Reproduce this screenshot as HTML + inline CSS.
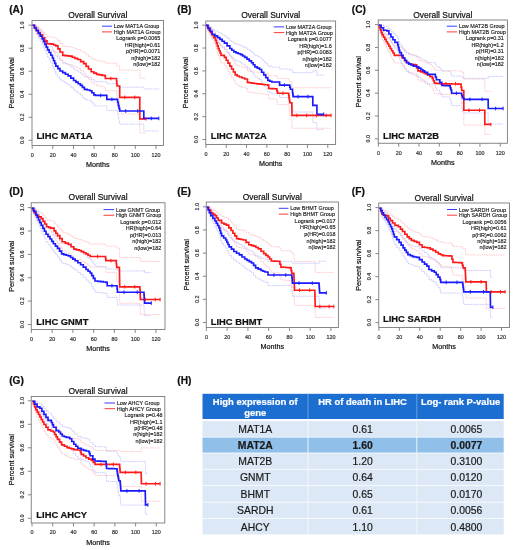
<!DOCTYPE html>
<html><head><meta charset="utf-8"><title>Survival figure</title>
<style>html,body{margin:0;padding:0;background:#fff;}svg{display:block;filter:blur(0.3px);}</style></head>
<body><svg width="516" height="550" viewBox="0 0 516 550" font-family='"Liberation Sans", sans-serif'>
<rect width="516" height="550" fill="#fff"/>
<text x="9.2" y="13.3" font-size="10.2" font-weight="bold" fill="#111" stroke="#111" stroke-width="0.2">(A)</text>
<text x="97.75" y="17.6" font-size="8.45" text-anchor="middle" fill="#111" stroke="#111" stroke-width="0.2">Overall Survival</text>
<rect x="32" y="20.5" width="131.5" height="125" fill="none" stroke="#7a7a7a" stroke-width="0.9"/>
<line x1="32.2" y1="145.5" x2="32.2" y2="148.9" stroke="#7a7a7a" stroke-width="0.9"/>
<text x="32.2" y="156.6" font-size="5.4" text-anchor="middle" fill="#333" stroke="#333" stroke-width="0.2">0</text>
<line x1="52.82" y1="145.5" x2="52.82" y2="148.9" stroke="#7a7a7a" stroke-width="0.9"/>
<text x="52.82" y="156.6" font-size="5.4" text-anchor="middle" fill="#333" stroke="#333" stroke-width="0.2">20</text>
<line x1="73.44" y1="145.5" x2="73.44" y2="148.9" stroke="#7a7a7a" stroke-width="0.9"/>
<text x="73.44" y="156.6" font-size="5.4" text-anchor="middle" fill="#333" stroke="#333" stroke-width="0.2">40</text>
<line x1="94.06" y1="145.5" x2="94.06" y2="148.9" stroke="#7a7a7a" stroke-width="0.9"/>
<text x="94.06" y="156.6" font-size="5.4" text-anchor="middle" fill="#333" stroke="#333" stroke-width="0.2">60</text>
<line x1="114.68" y1="145.5" x2="114.68" y2="148.9" stroke="#7a7a7a" stroke-width="0.9"/>
<text x="114.68" y="156.6" font-size="5.4" text-anchor="middle" fill="#333" stroke="#333" stroke-width="0.2">80</text>
<line x1="135.3" y1="145.5" x2="135.3" y2="148.9" stroke="#7a7a7a" stroke-width="0.9"/>
<text x="135.3" y="156.6" font-size="5.4" text-anchor="middle" fill="#333" stroke="#333" stroke-width="0.2">100</text>
<line x1="155.92" y1="145.5" x2="155.92" y2="148.9" stroke="#7a7a7a" stroke-width="0.9"/>
<text x="155.92" y="156.6" font-size="5.4" text-anchor="middle" fill="#333" stroke="#333" stroke-width="0.2">120</text>
<line x1="28.6" y1="140.3" x2="32" y2="140.3" stroke="#7a7a7a" stroke-width="0.9"/>
<text transform="translate(24.2 140.3) rotate(-90)" font-size="5.4" text-anchor="middle" fill="#333" stroke="#333" stroke-width="0.2">0.0</text>
<line x1="28.6" y1="117.28" x2="32" y2="117.28" stroke="#7a7a7a" stroke-width="0.9"/>
<text transform="translate(24.2 117.28) rotate(-90)" font-size="5.4" text-anchor="middle" fill="#333" stroke="#333" stroke-width="0.2">0.2</text>
<line x1="28.6" y1="94.26" x2="32" y2="94.26" stroke="#7a7a7a" stroke-width="0.9"/>
<text transform="translate(24.2 94.26) rotate(-90)" font-size="5.4" text-anchor="middle" fill="#333" stroke="#333" stroke-width="0.2">0.4</text>
<line x1="28.6" y1="71.24" x2="32" y2="71.24" stroke="#7a7a7a" stroke-width="0.9"/>
<text transform="translate(24.2 71.24) rotate(-90)" font-size="5.4" text-anchor="middle" fill="#333" stroke="#333" stroke-width="0.2">0.6</text>
<line x1="28.6" y1="48.22" x2="32" y2="48.22" stroke="#7a7a7a" stroke-width="0.9"/>
<text transform="translate(24.2 48.22) rotate(-90)" font-size="5.4" text-anchor="middle" fill="#333" stroke="#333" stroke-width="0.2">0.8</text>
<line x1="28.6" y1="25.2" x2="32" y2="25.2" stroke="#7a7a7a" stroke-width="0.9"/>
<text transform="translate(24.2 25.2) rotate(-90)" font-size="5.4" text-anchor="middle" fill="#333" stroke="#333" stroke-width="0.2">1.0</text>
<text x="97.75" y="166.8" font-size="7.2" text-anchor="middle" fill="#111" stroke="#111" stroke-width="0.2">Months</text>
<text transform="translate(14.2 83) rotate(-90)" font-size="7.2" text-anchor="middle" fill="#111" stroke="#111" stroke-width="0.2">Percent survival</text>
<path d="M32.5 25.2 L34.42 25.2 L34.42 25.2 L36.35 25.2 L36.35 26.53 L38.28 26.53 L38.28 28.16 L40.2 28.16 L40.2 29.92 L42.47 29.92 L42.47 32.15 L44.73 32.15 L44.73 34.45 L47 34.45 L47 36.82 L49.35 36.82 L49.35 36.98 L51.7 36.98 L51.7 37.14 L53.75 37.14 L53.75 37.82 L55.8 37.82 L55.8 38.5 L57.9 38.5 L57.9 40.98 L60 40.98 L60 43.5 L62.7 43.5 L62.7 46.31 L64.97 46.31 L64.97 46.5 L67.23 46.5 L67.23 46.69 L69.5 46.69 L69.5 46.88 L72.2 46.88 L72.2 47.78 L74.9 47.78 L74.9 48.67 L77.6 48.67 L77.6 49.54 L80.65 49.54 L80.65 51.1 L83.7 51.1 L83.7 52.64 L86.1 52.64 L86.1 54.67 L88.5 54.67 L88.5 56.71 L91.2 56.71 L91.2 58.75 L93.9 58.75 L93.9 59.75 L96.6 59.75 L96.6 60.72 L99.33 60.72 L99.33 61.04 L102.07 61.04 L102.07 61.34 L104.8 61.34 L104.8 61.62 L105.4 61.62 L105.4 63.23 L116.3 63.23 L116.53 63.23 L116.53 63.93 L116.77 63.93 L116.77 64.83 L117 64.83 L117 65.88 L119.7 65.88 L119.7 66.08 L119.7 70.21 L139.8 70.21 L139.8 78.16 L145.9 78.16" fill="none" stroke="#ffb0b0" stroke-width="0.75" stroke-dasharray="1.6 0.7" opacity="0.85"/>
<path d="M32.5 25.2 L34.42 25.2 L34.42 30.05 L36.35 30.05 L36.35 33.46 L38.28 33.46 L38.28 36.62 L40.2 36.62 L40.2 39.65 L42.47 39.65 L42.47 43.22 L44.73 43.22 L44.73 46.7 L47 46.7 L47 50.12 L49.35 50.12 L49.35 50.36 L51.7 50.36 L51.7 50.59 L53.75 50.59 L53.75 51.58 L55.8 51.58 L55.8 52.58 L57.9 52.58 L57.9 56.19 L60 56.19 L60 59.75 L62.7 59.75 L62.7 63.61 L64.97 63.61 L64.97 63.88 L67.23 63.88 L67.23 64.14 L69.5 64.14 L69.5 64.41 L72.2 64.41 L72.2 65.72 L74.9 65.72 L74.9 67.04 L77.6 67.04 L77.6 68.37 L80.65 68.37 L80.65 70.78 L83.7 70.78 L83.7 73.19 L86.1 73.19 L86.1 76.35 L88.5 76.35 L88.5 79.48 L91.2 79.48 L91.2 82.6 L93.9 82.6 L93.9 84.15 L96.6 84.15 L96.6 85.73 L99.33 85.73 L99.33 86.28 L102.07 86.28 L102.07 86.85 L104.8 86.85 L104.8 87.43 L105.4 87.43 L105.4 90.74 L116.3 90.74 L116.53 90.74 L116.53 94.25 L116.77 94.25 L116.77 97.55 L117 97.55 L117 100.68 L119.7 100.68 L119.7 101.45 L119.7 113.92 L139.8 113.92 L139.8 132.86 L145.9 132.86" fill="none" stroke="#ffb0b0" stroke-width="0.75" stroke-dasharray="1.6 0.7" opacity="0.85"/>
<path d="M32.5 25.2 L34.44 25.2 L34.44 25.31 L36.38 25.31 L36.38 26.97 L38.32 26.97 L38.32 28.89 L40.26 28.89 L40.26 30.95 L42.2 30.95 L42.2 33.09 L43.55 33.09 L43.55 35.25 L44.9 35.25 L44.9 37.47 L46.25 37.47 L46.25 39.72 L47.6 39.72 L47.6 42.01 L49.2 42.01 L49.2 44.36 L50.8 44.36 L50.8 46.73 L52.4 46.73 L52.4 49.12 L53.53 49.12 L53.53 51.5 L54.67 51.5 L54.67 53.91 L55.8 53.91 L55.8 56.34 L57.9 56.34 L57.9 58.55 L60 58.55 L60 60.76 L62.7 60.76 L62.7 62.2 L65.4 62.2 L65.4 63.63 L68.1 63.63 L68.1 65.05 L70.85 65.05 L70.85 67.12 L73.6 67.12 L73.6 69.18 L75.87 69.18 L75.87 70.58 L78.13 70.58 L78.13 71.97 L80.4 71.97 L80.4 73.35 L82.4 73.35 L82.4 75.05 L84.4 75.05 L84.4 76.76 L87.1 76.76 L87.1 77.34 L89.8 77.34 L89.8 77.91 L91.85 77.91 L91.85 79.54 L93.9 79.54 L93.9 81.16 L95.3 81.16 L95.3 81.63 L106.1 81.63 L106.8 81.63 L106.8 83.8 L117 83.8 L117.65 83.8 L117.65 84.42 L118.3 84.42 L118.3 85.31 L119 85.31 L119 86.23 L119.7 86.23 L119.7 87.22 L143.8 87.22 L143.8 88.96 L158.8 88.96" fill="none" stroke="#b0b0ff" stroke-width="0.75" stroke-dasharray="1.6 0.7" opacity="0.85"/>
<path d="M32.5 25.2 L34.44 25.2 L34.44 30.55 L36.38 30.55 L36.38 34.34 L38.32 34.34 L38.32 37.88 L40.26 37.88 L40.26 41.28 L42.2 41.28 L42.2 44.58 L43.55 44.58 L43.55 47.75 L44.9 47.75 L44.9 50.87 L46.25 50.87 L46.25 53.94 L47.6 53.94 L47.6 56.97 L49.2 56.97 L49.2 60.01 L50.8 60.01 L50.8 63.03 L52.4 63.03 L52.4 66.02 L53.53 66.02 L53.53 68.95 L54.67 68.95 L54.67 71.85 L55.8 71.85 L55.8 74.73 L57.9 74.73 L57.9 77.33 L60 77.33 L60 79.92 L62.7 79.92 L62.7 81.62 L65.4 81.62 L65.4 83.31 L68.1 83.31 L68.1 85.01 L70.85 85.01 L70.85 87.52 L73.6 87.52 L73.6 90.02 L75.87 90.02 L75.87 91.72 L78.13 91.72 L78.13 93.42 L80.4 93.42 L80.4 95.12 L82.4 95.12 L82.4 97.25 L84.4 97.25 L84.4 99.37 L87.1 99.37 L87.1 100.11 L89.8 100.11 L89.8 100.87 L91.85 100.87 L91.85 103.09 L93.9 103.09 L93.9 105.3 L95.3 105.3 L95.3 105.94 L106.1 105.94 L106.8 105.94 L106.8 110.55 L117 110.55 L117.65 110.55 L117.65 114.66 L118.3 114.66 L118.3 118.4 L119 118.4 L119 121.36 L119.7 121.36 L119.7 124.13 L143.8 124.13 L143.8 130.96 L158.8 130.96" fill="none" stroke="#b0b0ff" stroke-width="0.75" stroke-dasharray="1.6 0.7" opacity="0.85"/>
<path d="M32.5 25.2 L34.42 25.2 L34.42 27.62 L36.35 27.62 L36.35 30.05 L38.28 30.05 L38.28 32.48 L40.2 32.48 L40.2 34.9 L42.47 34.9 L42.47 37.83 L44.73 37.83 L44.73 40.77 L47 40.77 L47 43.7 L49.35 43.7 L49.35 43.9 L51.7 43.9 L51.7 44.1 L53.75 44.1 L53.75 44.95 L55.8 44.95 L55.8 45.8 L57.9 45.8 L57.9 48.9 L60 48.9 L60 52 L62.7 52 L62.7 55.4 L64.97 55.4 L64.97 55.63 L67.23 55.63 L67.23 55.87 L69.5 55.87 L69.5 56.1 L72.2 56.1 L72.2 57.23 L74.9 57.23 L74.9 58.37 L77.6 58.37 L77.6 59.5 L80.65 59.5 L80.65 61.55 L83.7 61.55 L83.7 63.6 L86.1 63.6 L86.1 66.3 L88.5 66.3 L88.5 69 L91.2 69 L91.2 71.7 L93.9 71.7 L93.9 73.05 L96.6 73.05 L96.6 74.4 L99.33 74.4 L99.33 74.87 L102.07 74.87 L102.07 75.33 L104.8 75.33 L104.8 75.8 L105.4 75.8 L105.4 78.5 L116.3 78.5 L116.53 78.5 L116.53 81 L116.77 81 L116.77 83.5 L117 83.5 L117 86 L119.7 86 L119.7 86.6 L119.7 97.3 L139.8 97.3 L139.8 118.8 L145.9 118.8" fill="none" stroke="#ff1a1a" stroke-width="1.65" stroke-linejoin="miter"/>
<path d="M32.5 25.2 L34.44 25.2 L34.44 27.96 L36.38 27.96 L36.38 30.72 L38.32 30.72 L38.32 33.48 L40.26 33.48 L40.26 36.24 L42.2 36.24 L42.2 39 L43.55 39 L43.55 41.7 L44.9 41.7 L44.9 44.4 L46.25 44.4 L46.25 47.1 L47.6 47.1 L47.6 49.8 L49.2 49.8 L49.2 52.53 L50.8 52.53 L50.8 55.27 L52.4 55.27 L52.4 58 L53.53 58 L53.53 60.7 L54.67 60.7 L54.67 63.4 L55.8 63.4 L55.8 66.1 L57.9 66.1 L57.9 68.55 L60 68.55 L60 71 L62.7 71 L62.7 72.6 L65.4 72.6 L65.4 74.2 L68.1 74.2 L68.1 75.8 L70.85 75.8 L70.85 78.15 L73.6 78.15 L73.6 80.5 L75.87 80.5 L75.87 82.1 L78.13 82.1 L78.13 83.7 L80.4 83.7 L80.4 85.3 L82.4 85.3 L82.4 87.3 L84.4 87.3 L84.4 89.3 L87.1 89.3 L87.1 90 L89.8 90 L89.8 90.7 L91.85 90.7 L91.85 92.75 L93.9 92.75 L93.9 94.8 L95.3 94.8 L95.3 95.4 L106.1 95.4 L106.8 95.4 L106.8 99.3 L117 99.3 L117.65 99.3 L117.65 102.45 L118.3 102.45 L118.3 105.6 L119 105.6 L119 108.3 L119.7 108.3 L119.7 111 L143.8 111 L143.8 118.4 L158.8 118.4" fill="none" stroke="#1a1aff" stroke-width="1.65" stroke-linejoin="miter"/>
<path d="M110.85 76.7 V80.3 M124.73 95.5 V99.1 M134.78 95.5 V99.1 M145.9 117 V120.6" stroke="#ff1a1a" stroke-width="1.0" fill="none"/>
<path d="M100.7 93.6 V97.2 M111.9 97.5 V101.1 M125.73 109.2 V112.8 M137.78 109.2 V112.8 M151.3 116.6 V120.2 M158.8 116.6 V120.2" stroke="#1a1aff" stroke-width="1.0" fill="none"/>
<line x1="102" y1="26.2" x2="112" y2="26.2" stroke="#3030ff" stroke-width="0.95"/>
<text transform="translate(113.8 28.2) scale(1 1.15)" font-size="5.45" fill="#222" stroke="#222" stroke-width="0.15">Low MAT1A Group</text>
<line x1="102" y1="31.88" x2="112" y2="31.88" stroke="#ff3030" stroke-width="0.95"/>
<text transform="translate(113.8 33.88) scale(1 1.15)" font-size="5.45" fill="#222" stroke="#222" stroke-width="0.15">High MAT1A Group</text>
<text transform="translate(160.3 40.33) scale(1 1.15)" font-size="5.45" text-anchor="end" fill="#222" stroke="#222" stroke-width="0.15">Logrank p=0.0065</text>
<text transform="translate(160.3 46.78) scale(1 1.15)" font-size="5.45" text-anchor="end" fill="#222" stroke="#222" stroke-width="0.15">HR(high)=0.61</text>
<text transform="translate(160.3 53.23) scale(1 1.15)" font-size="5.45" text-anchor="end" fill="#222" stroke="#222" stroke-width="0.15">p(HR)=0.0071</text>
<text transform="translate(160.3 59.68) scale(1 1.15)" font-size="5.45" text-anchor="end" fill="#222" stroke="#222" stroke-width="0.15">n(high)=182</text>
<text transform="translate(160.3 66.13) scale(1 1.15)" font-size="5.45" text-anchor="end" fill="#222" stroke="#222" stroke-width="0.15">n(low)=182</text>
<text x="36.4" y="139.1" font-size="9.4" font-weight="bold" fill="#111" stroke="#111" stroke-width="0.2">LIHC MAT1A</text>
<text x="177.3" y="13.3" font-size="10.2" font-weight="bold" fill="#111" stroke="#111" stroke-width="0.2">(B)</text>
<text x="270.68" y="17.6" font-size="8.45" text-anchor="middle" fill="#111" stroke="#111" stroke-width="0.2">Overall Survival</text>
<rect x="205.75" y="21" width="129.85" height="123.5" fill="none" stroke="#7a7a7a" stroke-width="0.9"/>
<line x1="205.9" y1="144.5" x2="205.9" y2="147.9" stroke="#7a7a7a" stroke-width="0.9"/>
<text x="205.9" y="156" font-size="5.4" text-anchor="middle" fill="#333" stroke="#333" stroke-width="0.2">0</text>
<line x1="226.21" y1="144.5" x2="226.21" y2="147.9" stroke="#7a7a7a" stroke-width="0.9"/>
<text x="226.21" y="156" font-size="5.4" text-anchor="middle" fill="#333" stroke="#333" stroke-width="0.2">20</text>
<line x1="246.52" y1="144.5" x2="246.52" y2="147.9" stroke="#7a7a7a" stroke-width="0.9"/>
<text x="246.52" y="156" font-size="5.4" text-anchor="middle" fill="#333" stroke="#333" stroke-width="0.2">40</text>
<line x1="266.84" y1="144.5" x2="266.84" y2="147.9" stroke="#7a7a7a" stroke-width="0.9"/>
<text x="266.84" y="156" font-size="5.4" text-anchor="middle" fill="#333" stroke="#333" stroke-width="0.2">60</text>
<line x1="287.15" y1="144.5" x2="287.15" y2="147.9" stroke="#7a7a7a" stroke-width="0.9"/>
<text x="287.15" y="156" font-size="5.4" text-anchor="middle" fill="#333" stroke="#333" stroke-width="0.2">80</text>
<line x1="307.46" y1="144.5" x2="307.46" y2="147.9" stroke="#7a7a7a" stroke-width="0.9"/>
<text x="307.46" y="156" font-size="5.4" text-anchor="middle" fill="#333" stroke="#333" stroke-width="0.2">100</text>
<line x1="327.77" y1="144.5" x2="327.77" y2="147.9" stroke="#7a7a7a" stroke-width="0.9"/>
<text x="327.77" y="156" font-size="5.4" text-anchor="middle" fill="#333" stroke="#333" stroke-width="0.2">120</text>
<line x1="202.35" y1="139.5" x2="205.75" y2="139.5" stroke="#7a7a7a" stroke-width="0.9"/>
<text transform="translate(197.5 139.5) rotate(-90)" font-size="5.4" text-anchor="middle" fill="#333" stroke="#333" stroke-width="0.2">0.0</text>
<line x1="202.35" y1="116.64" x2="205.75" y2="116.64" stroke="#7a7a7a" stroke-width="0.9"/>
<text transform="translate(197.5 116.64) rotate(-90)" font-size="5.4" text-anchor="middle" fill="#333" stroke="#333" stroke-width="0.2">0.2</text>
<line x1="202.35" y1="93.78" x2="205.75" y2="93.78" stroke="#7a7a7a" stroke-width="0.9"/>
<text transform="translate(197.5 93.78) rotate(-90)" font-size="5.4" text-anchor="middle" fill="#333" stroke="#333" stroke-width="0.2">0.4</text>
<line x1="202.35" y1="70.92" x2="205.75" y2="70.92" stroke="#7a7a7a" stroke-width="0.9"/>
<text transform="translate(197.5 70.92) rotate(-90)" font-size="5.4" text-anchor="middle" fill="#333" stroke="#333" stroke-width="0.2">0.6</text>
<line x1="202.35" y1="48.06" x2="205.75" y2="48.06" stroke="#7a7a7a" stroke-width="0.9"/>
<text transform="translate(197.5 48.06) rotate(-90)" font-size="5.4" text-anchor="middle" fill="#333" stroke="#333" stroke-width="0.2">0.8</text>
<line x1="202.35" y1="25.2" x2="205.75" y2="25.2" stroke="#7a7a7a" stroke-width="0.9"/>
<text transform="translate(197.5 25.2) rotate(-90)" font-size="5.4" text-anchor="middle" fill="#333" stroke="#333" stroke-width="0.2">1.0</text>
<text x="270.68" y="165.5" font-size="7.2" text-anchor="middle" fill="#111" stroke="#111" stroke-width="0.2">Months</text>
<text transform="translate(188 82.75) rotate(-90)" font-size="7.2" text-anchor="middle" fill="#111" stroke="#111" stroke-width="0.2">Percent survival</text>
<path d="M206 25.2 L207.53 25.2 L207.53 25.24 L209.05 25.24 L209.05 26.64 L210.57 26.64 L210.57 28.25 L212.1 28.25 L212.1 29.99 L213.8 29.99 L213.8 32.1 L215.5 32.1 L215.5 34.28 L216.4 34.28 L216.4 36.48 L217.3 36.48 L217.3 38.73 L218.2 38.73 L218.2 41.02 L219.13 41.02 L219.13 42.97 L220.07 42.97 L220.07 44.94 L221 44.94 L221 46.94 L224.4 46.94 L224.4 48.69 L226.2 48.69 L226.2 51.27 L228 51.27 L228 53.87 L229.8 53.87 L229.8 56.48 L231.6 56.48 L231.6 59.12 L233.4 59.12 L233.4 61.77 L235.2 61.77 L235.2 64.43 L237.25 64.43 L237.25 65.39 L239.3 65.39 L239.3 66.34 L242 66.34 L242 67.23 L244.7 67.23 L244.7 68.11 L247.4 68.11 L247.4 71.08 L249.45 71.08 L249.45 71.39 L251.5 71.39 L251.5 71.69 L254.2 71.69 L254.2 71.98 L256.9 71.98 L256.9 72.27 L259.62 72.27 L259.62 72.53 L262.35 72.53 L262.35 72.77 L265.07 72.77 L265.07 73.01 L267.8 73.01 L267.8 73.24 L268.7 73.24 L268.7 75.59 L271.2 75.59 L271.2 75.65 L273.7 75.65 L273.7 75.72 L276.2 75.72 L276.2 75.78 L276.85 75.78 L276.85 77.06 L277.5 77.06 L277.5 78.4 L288.4 78.4 L288.72 78.4 L288.72 78.99 L289.05 78.99 L289.05 79.76 L289.38 79.76 L289.38 80.68 L289.7 80.68 L289.7 81.72 L291.8 81.72 L291.8 81.98 L291.84 81.98 L291.84 82.9 L291.88 82.9 L291.88 83.96 L291.92 83.96 L291.92 85.13 L291.96 85.13 L291.96 86.41 L292 86.41 L292 87.76 L331.1 87.76" fill="none" stroke="#ffb0b0" stroke-width="0.75" stroke-dasharray="1.6 0.7" opacity="0.85"/>
<path d="M206 26.09 L207.53 26.09 L207.53 30.25 L209.05 30.25 L209.05 33.55 L210.57 33.55 L210.57 36.63 L212.1 36.63 L212.1 39.59 L213.8 39.59 L213.8 42.92 L215.5 42.92 L215.5 46.17 L216.4 46.17 L216.4 49.3 L217.3 49.3 L217.3 52.37 L218.2 52.37 L218.2 55.41 L219.13 55.41 L219.13 57.93 L220.07 57.93 L220.07 60.43 L221 60.43 L221 62.91 L224.4 62.91 L224.4 65.1 L226.2 65.1 L226.2 68.29 L228 68.29 L228 71.46 L229.8 71.46 L229.8 74.6 L231.6 74.6 L231.6 77.72 L233.4 77.72 L233.4 80.83 L235.2 80.83 L235.2 83.91 L237.25 83.91 L237.25 85.01 L239.3 85.01 L239.3 86.11 L242 86.11 L242 87.16 L244.7 87.16 L244.7 88.23 L247.4 88.23 L247.4 91.85 L249.45 91.85 L249.45 92.22 L251.5 92.22 L251.5 92.59 L254.2 92.59 L254.2 92.97 L256.9 92.97 L256.9 93.35 L259.62 93.35 L259.62 93.71 L262.35 93.71 L262.35 94.08 L265.07 94.08 L265.07 94.46 L267.8 94.46 L267.8 94.84 L268.7 94.84 L268.7 98.81 L271.2 98.81 L271.2 98.92 L273.7 98.92 L273.7 99.04 L276.2 99.04 L276.2 99.16 L276.85 99.16 L276.85 101.83 L277.5 101.83 L277.5 104.41 L288.4 104.41 L288.72 104.41 L288.72 107.62 L289.05 107.62 L289.05 110.6 L289.38 110.6 L289.38 113.41 L289.7 113.41 L289.7 116.06 L291.8 116.06 L291.8 116.84 L291.84 116.84 L291.84 119.43 L291.88 119.43 L291.88 121.86 L291.92 121.86 L291.92 124.14 L291.96 124.14 L291.96 126.27 L292 126.27 L292 128.27 L331.1 128.27" fill="none" stroke="#ffb0b0" stroke-width="0.75" stroke-dasharray="1.6 0.7" opacity="0.85"/>
<path d="M206 25.2 L208.03 25.2 L208.03 25.53 L210.07 25.53 L210.07 27.36 L212.1 27.36 L212.1 29.44 L214.85 29.44 L214.85 30.71 L217.6 30.71 L217.6 32 L219.87 32 L219.87 33.42 L222.13 33.42 L222.13 34.85 L224.4 34.85 L224.4 36.3 L227.1 36.3 L227.1 38.46 L229.8 38.46 L229.8 40.64 L231.8 40.64 L231.8 42.04 L233.8 42.04 L233.8 43.43 L236.07 43.43 L236.07 44.17 L238.33 44.17 L238.33 44.9 L240.6 44.9 L240.6 45.63 L242.65 45.63 L242.65 46.71 L244.7 46.71 L244.7 47.79 L246.97 47.79 L246.97 49.23 L249.23 49.23 L249.23 50.66 L251.5 50.66 L251.5 52.09 L253.2 52.09 L253.2 53.72 L254.9 53.72 L254.9 55.35 L257.25 55.35 L257.25 56.42 L259.6 56.42 L259.6 57.48 L261.65 57.48 L261.65 59.57 L263.7 59.57 L263.7 61.66 L265.75 61.66 L265.75 63.8 L267.8 63.8 L267.8 65.93 L269.8 65.93 L269.8 66.55 L271.8 66.55 L271.8 67.15 L278.2 67.15 L279.6 67.15 L279.6 69 L289.1 69 L289.75 69 L289.75 69.58 L290.4 69.58 L290.4 70.23 L292.5 70.23 L292.5 71.16 L292.8 71.16 L292.8 71.87 L293.1 71.87 L293.1 72.65 L312.8 72.65 L312.8 70.79 L316.9 70.79 L316.9 75.18 L323.7 75.18" fill="none" stroke="#b0b0ff" stroke-width="0.75" stroke-dasharray="1.6 0.7" opacity="0.85"/>
<path d="M206 26.09 L208.03 26.09 L208.03 31.07 L210.07 31.07 L210.07 35.04 L212.1 35.04 L212.1 38.75 L214.85 38.75 L214.85 40.84 L217.6 40.84 L217.6 42.91 L219.87 42.91 L219.87 45.11 L222.13 45.11 L222.13 47.29 L224.4 47.29 L224.4 49.45 L227.1 49.45 L227.1 52.61 L229.8 52.61 L229.8 55.73 L231.8 55.73 L231.8 57.68 L233.8 57.68 L233.8 59.62 L236.07 59.62 L236.07 60.65 L238.33 60.65 L238.33 61.68 L240.6 61.68 L240.6 62.71 L242.65 62.71 L242.65 64.27 L244.7 64.27 L244.7 65.82 L246.97 65.82 L246.97 67.89 L249.23 67.89 L249.23 69.96 L251.5 69.96 L251.5 72.03 L253.2 72.03 L253.2 74.36 L254.9 74.36 L254.9 76.69 L257.25 76.69 L257.25 78.22 L259.6 78.22 L259.6 79.76 L261.65 79.76 L261.65 82.84 L263.7 82.84 L263.7 85.89 L265.75 85.89 L265.75 88.97 L267.8 88.97 L267.8 92.02 L269.8 92.02 L269.8 92.91 L271.8 92.91 L271.8 93.8 L278.2 93.8 L279.6 93.8 L279.6 97.52 L289.1 97.52 L289.75 97.52 L289.75 100.31 L290.4 100.31 L290.4 102.98 L292.5 102.98 L292.5 107.31 L292.8 107.31 L292.8 109.69 L293.1 109.69 L293.1 111.97 L312.8 111.97 L312.8 122.58 L316.9 122.58 L316.9 129.63 L323.7 129.63" fill="none" stroke="#b0b0ff" stroke-width="0.75" stroke-dasharray="1.6 0.7" opacity="0.85"/>
<path d="M206 25.4 L207.53 25.4 L207.53 27.77 L209.05 27.77 L209.05 30.15 L210.57 30.15 L210.57 32.52 L212.1 32.52 L212.1 34.9 L213.8 34.9 L213.8 37.65 L215.5 37.65 L215.5 40.4 L216.4 40.4 L216.4 43.1 L217.3 43.1 L217.3 45.8 L218.2 45.8 L218.2 48.5 L219.13 48.5 L219.13 50.77 L220.07 50.77 L220.07 53.03 L221 53.03 L221 55.3 L224.4 55.3 L224.4 57.3 L226.2 57.3 L226.2 60.23 L228 60.23 L228 63.17 L229.8 63.17 L229.8 66.1 L231.6 66.1 L231.6 69.03 L233.4 69.03 L233.4 71.97 L235.2 71.97 L235.2 74.9 L237.25 74.9 L237.25 75.95 L239.3 75.95 L239.3 77 L242 77 L242 78 L244.7 78 L244.7 79 L247.4 79 L247.4 82.4 L249.45 82.4 L249.45 82.75 L251.5 82.75 L251.5 83.1 L254.2 83.1 L254.2 83.45 L256.9 83.45 L256.9 83.8 L259.62 83.8 L259.62 84.12 L262.35 84.12 L262.35 84.45 L265.07 84.45 L265.07 84.77 L267.8 84.77 L267.8 85.1 L268.7 85.1 L268.7 88.5 L271.2 88.5 L271.2 88.6 L273.7 88.6 L273.7 88.7 L276.2 88.7 L276.2 88.8 L276.85 88.8 L276.85 91 L277.5 91 L277.5 93.2 L288.4 93.2 L288.72 93.2 L288.72 95.58 L289.05 95.58 L289.05 97.95 L289.38 97.95 L289.38 100.33 L289.7 100.33 L289.7 102.7 L291.8 102.7 L291.8 103.4 L291.84 103.4 L291.84 105.8 L291.88 105.8 L291.88 108.2 L291.92 108.2 L291.92 110.6 L291.96 110.6 L291.96 113 L292 113 L292 115.4 L331.1 115.4" fill="none" stroke="#ff1a1a" stroke-width="1.65" stroke-linejoin="miter"/>
<path d="M206 25.4 L208.03 25.4 L208.03 28.33 L210.07 28.33 L210.07 31.27 L212.1 31.27 L212.1 34.2 L214.85 34.2 L214.85 35.9 L217.6 35.9 L217.6 37.6 L219.87 37.6 L219.87 39.43 L222.13 39.43 L222.13 41.27 L224.4 41.27 L224.4 43.1 L227.1 43.1 L227.1 45.8 L229.8 45.8 L229.8 48.5 L231.8 48.5 L231.8 50.2 L233.8 50.2 L233.8 51.9 L236.07 51.9 L236.07 52.8 L238.33 52.8 L238.33 53.7 L240.6 53.7 L240.6 54.6 L242.65 54.6 L242.65 55.95 L244.7 55.95 L244.7 57.3 L246.97 57.3 L246.97 59.1 L249.23 59.1 L249.23 60.9 L251.5 60.9 L251.5 62.7 L253.2 62.7 L253.2 64.75 L254.9 64.75 L254.9 66.8 L257.25 66.8 L257.25 68.15 L259.6 68.15 L259.6 69.5 L261.65 69.5 L261.65 72.2 L263.7 72.2 L263.7 74.9 L265.75 74.9 L265.75 77.65 L267.8 77.65 L267.8 80.4 L269.8 80.4 L269.8 81.2 L271.8 81.2 L271.8 82 L278.2 82 L279.6 82 L279.6 85.1 L289.1 85.1 L289.75 85.1 L289.75 87.15 L290.4 87.15 L290.4 89.2 L292.5 89.2 L292.5 92.6 L292.8 92.6 L292.8 94.6 L293.1 94.6 L293.1 96.6 L312.8 96.6 L312.8 105.4 L316.9 105.4 L316.9 114.3 L323.7 114.3" fill="none" stroke="#1a1aff" stroke-width="1.65" stroke-linejoin="miter"/>
<path d="M282.95 91.4 V95 M296.89 113.6 V117.2 M306.66 113.6 V117.2 M316.44 113.6 V117.2 M326.21 113.6 V117.2 M331.1 113.6 V117.2" stroke="#ff1a1a" stroke-width="1.0" fill="none"/>
<path d="M284.35 83.3 V86.9 M298.03 94.8 V98.4 M307.88 94.8 V98.4 M323.7 112.5 V116.1" stroke="#1a1aff" stroke-width="1.0" fill="none"/>
<line x1="273.75" y1="26.9" x2="284.25" y2="26.9" stroke="#3030ff" stroke-width="0.95"/>
<text transform="translate(286.05 28.9) scale(1 1.15)" font-size="5.45" fill="#222" stroke="#222" stroke-width="0.15">Low MAT2A Group</text>
<line x1="273.75" y1="32.62" x2="284.25" y2="32.62" stroke="#ff3030" stroke-width="0.95"/>
<text transform="translate(286.05 34.62) scale(1 1.15)" font-size="5.45" fill="#222" stroke="#222" stroke-width="0.15">High MAT2A Group</text>
<text transform="translate(331.7 41.12) scale(1 1.15)" font-size="5.45" text-anchor="end" fill="#222" stroke="#222" stroke-width="0.15">Logrank p=0.0077</text>
<text transform="translate(331.7 47.62) scale(1 1.15)" font-size="5.45" text-anchor="end" fill="#222" stroke="#222" stroke-width="0.15">HR(high)=1.6</text>
<text transform="translate(331.7 54.12) scale(1 1.15)" font-size="5.45" text-anchor="end" fill="#222" stroke="#222" stroke-width="0.15">p(HR)=0.0083</text>
<text transform="translate(331.7 60.62) scale(1 1.15)" font-size="5.45" text-anchor="end" fill="#222" stroke="#222" stroke-width="0.15">n(high)=182</text>
<text transform="translate(331.7 67.12) scale(1 1.15)" font-size="5.45" text-anchor="end" fill="#222" stroke="#222" stroke-width="0.15">n(low)=182</text>
<text x="210.75" y="139.2" font-size="9.4" font-weight="bold" fill="#111" stroke="#111" stroke-width="0.2">LIHC MAT2A</text>
<text x="351.8" y="13.3" font-size="10.2" font-weight="bold" fill="#111" stroke="#111" stroke-width="0.2">(C)</text>
<text x="442.82" y="17.6" font-size="8.45" text-anchor="middle" fill="#111" stroke="#111" stroke-width="0.2">Overall Survival</text>
<rect x="378.25" y="20" width="129.15" height="123.25" fill="none" stroke="#7a7a7a" stroke-width="0.9"/>
<line x1="378.4" y1="143.25" x2="378.4" y2="146.65" stroke="#7a7a7a" stroke-width="0.9"/>
<text x="378.4" y="155.2" font-size="5.4" text-anchor="middle" fill="#333" stroke="#333" stroke-width="0.2">0</text>
<line x1="398.71" y1="143.25" x2="398.71" y2="146.65" stroke="#7a7a7a" stroke-width="0.9"/>
<text x="398.71" y="155.2" font-size="5.4" text-anchor="middle" fill="#333" stroke="#333" stroke-width="0.2">20</text>
<line x1="419.02" y1="143.25" x2="419.02" y2="146.65" stroke="#7a7a7a" stroke-width="0.9"/>
<text x="419.02" y="155.2" font-size="5.4" text-anchor="middle" fill="#333" stroke="#333" stroke-width="0.2">40</text>
<line x1="439.34" y1="143.25" x2="439.34" y2="146.65" stroke="#7a7a7a" stroke-width="0.9"/>
<text x="439.34" y="155.2" font-size="5.4" text-anchor="middle" fill="#333" stroke="#333" stroke-width="0.2">60</text>
<line x1="459.65" y1="143.25" x2="459.65" y2="146.65" stroke="#7a7a7a" stroke-width="0.9"/>
<text x="459.65" y="155.2" font-size="5.4" text-anchor="middle" fill="#333" stroke="#333" stroke-width="0.2">80</text>
<line x1="479.96" y1="143.25" x2="479.96" y2="146.65" stroke="#7a7a7a" stroke-width="0.9"/>
<text x="479.96" y="155.2" font-size="5.4" text-anchor="middle" fill="#333" stroke="#333" stroke-width="0.2">100</text>
<line x1="500.27" y1="143.25" x2="500.27" y2="146.65" stroke="#7a7a7a" stroke-width="0.9"/>
<text x="500.27" y="155.2" font-size="5.4" text-anchor="middle" fill="#333" stroke="#333" stroke-width="0.2">120</text>
<line x1="374.85" y1="138.8" x2="378.25" y2="138.8" stroke="#7a7a7a" stroke-width="0.9"/>
<text transform="translate(370 138.8) rotate(-90)" font-size="5.4" text-anchor="middle" fill="#333" stroke="#333" stroke-width="0.2">0.0</text>
<line x1="374.85" y1="115.96" x2="378.25" y2="115.96" stroke="#7a7a7a" stroke-width="0.9"/>
<text transform="translate(370 115.96) rotate(-90)" font-size="5.4" text-anchor="middle" fill="#333" stroke="#333" stroke-width="0.2">0.2</text>
<line x1="374.85" y1="93.12" x2="378.25" y2="93.12" stroke="#7a7a7a" stroke-width="0.9"/>
<text transform="translate(370 93.12) rotate(-90)" font-size="5.4" text-anchor="middle" fill="#333" stroke="#333" stroke-width="0.2">0.4</text>
<line x1="374.85" y1="70.28" x2="378.25" y2="70.28" stroke="#7a7a7a" stroke-width="0.9"/>
<text transform="translate(370 70.28) rotate(-90)" font-size="5.4" text-anchor="middle" fill="#333" stroke="#333" stroke-width="0.2">0.6</text>
<line x1="374.85" y1="47.44" x2="378.25" y2="47.44" stroke="#7a7a7a" stroke-width="0.9"/>
<text transform="translate(370 47.44) rotate(-90)" font-size="5.4" text-anchor="middle" fill="#333" stroke="#333" stroke-width="0.2">0.8</text>
<line x1="374.85" y1="24.6" x2="378.25" y2="24.6" stroke="#7a7a7a" stroke-width="0.9"/>
<text transform="translate(370 24.6) rotate(-90)" font-size="5.4" text-anchor="middle" fill="#333" stroke="#333" stroke-width="0.2">1.0</text>
<text x="442.82" y="165" font-size="7.2" text-anchor="middle" fill="#111" stroke="#111" stroke-width="0.2">Months</text>
<text transform="translate(360.5 81.62) rotate(-90)" font-size="7.2" text-anchor="middle" fill="#111" stroke="#111" stroke-width="0.2">Percent survival</text>
<path d="M378.7 24.6 L379.55 24.6 L379.55 24.9 L380.4 24.9 L380.4 26.4 L381.25 26.4 L381.25 28.1 L382.1 28.1 L382.1 29.92 L383.47 29.92 L383.47 31.68 L384.83 31.68 L384.83 33.5 L386.2 33.5 L386.2 35.35 L387.53 35.35 L387.53 37.23 L388.87 37.23 L388.87 39.14 L390.2 39.14 L390.2 41.07 L391.57 41.07 L391.57 43.02 L392.93 43.02 L392.93 44.99 L394.3 44.99 L394.3 46.97 L399.7 46.97 L402.1 46.97 L402.1 49.27 L404.5 49.27 L404.5 51.59 L406.55 51.59 L406.55 53.06 L408.6 53.06 L408.6 54.53 L410.83 54.53 L410.83 54.73 L413.07 54.73 L413.07 54.93 L415.3 54.93 L415.3 55.12 L416.65 55.12 L416.65 57.66 L418 57.66 L418 60.24 L420.75 60.24 L420.75 61.08 L423.5 61.08 L423.5 61.91 L425.55 61.91 L425.55 62.73 L427.6 62.73 L427.6 63.55 L429.95 63.55 L429.95 64.9 L432.3 64.9 L432.3 66.25 L433.3 66.25 L433.3 68.16 L434.3 68.16 L434.3 70.1 L436.57 70.1 L436.57 70.28 L438.83 70.28 L438.83 70.46 L441.1 70.46 L441.1 70.64 L443.86 70.64 L443.86 70.67 L446.61 70.67 L446.61 70.69 L449.37 70.69 L449.37 70.72 L452.13 70.72 L452.13 70.74 L454.89 70.74 L454.89 70.76 L457.64 70.76 L457.64 70.77 L460.4 70.77 L460.4 70.78 L461.05 70.78 L461.05 71.4 L461.7 71.4 L461.7 72.37 L463.8 72.37 L463.8 72.77 L463.8 79.06 L484.8 79.06 L484.8 91.36 L490.9 91.36" fill="none" stroke="#ffb0b0" stroke-width="0.75" stroke-dasharray="1.6 0.7" opacity="0.85"/>
<path d="M378.7 26.4 L379.55 26.4 L379.55 30.29 L380.4 30.29 L380.4 33.59 L381.25 33.59 L381.25 36.68 L382.1 36.68 L382.1 39.65 L383.47 39.65 L383.47 42.37 L384.83 42.37 L384.83 45.03 L386.2 45.03 L386.2 47.66 L387.53 47.66 L387.53 50.26 L388.87 50.26 L388.87 52.82 L390.2 52.82 L390.2 55.37 L391.57 55.37 L391.57 57.89 L392.93 57.89 L392.93 60.39 L394.3 60.39 L394.3 62.88 L399.7 62.88 L402.1 62.88 L402.1 65.88 L404.5 65.88 L404.5 68.86 L406.55 68.86 L406.55 70.72 L408.6 70.72 L408.6 72.58 L410.83 72.58 L410.83 72.84 L413.07 72.84 L413.07 73.1 L415.3 73.1 L415.3 73.36 L416.65 73.36 L416.65 76.76 L418 76.76 L418 80.11 L420.75 80.11 L420.75 81.21 L423.5 81.21 L423.5 82.32 L425.55 82.32 L425.55 83.43 L427.6 83.43 L427.6 84.54 L429.95 84.54 L429.95 86.45 L432.3 86.45 L432.3 88.35 L433.3 88.35 L433.3 91.02 L434.3 91.02 L434.3 93.64 L436.57 93.64 L436.57 93.9 L438.83 93.9 L438.83 94.16 L441.1 94.16 L441.1 94.42 L443.86 94.42 L443.86 94.47 L446.61 94.47 L446.61 94.52 L449.37 94.52 L449.37 94.58 L452.13 94.58 L452.13 94.63 L454.89 94.63 L454.89 94.69 L457.64 94.69 L457.64 94.75 L460.4 94.75 L460.4 94.81 L461.05 94.81 L461.05 99.45 L461.7 99.45 L461.7 103.68 L463.8 103.68 L463.8 105.49 L463.8 125.11 L484.8 125.11 L484.8 134.43 L490.9 134.43" fill="none" stroke="#ffb0b0" stroke-width="0.75" stroke-dasharray="1.6 0.7" opacity="0.85"/>
<path d="M378.7 24.6 L381.1 24.6 L381.1 24.91 L383.5 24.91 L383.5 26.43 L386.9 26.43 L386.9 26.9 L388.9 26.9 L388.9 29.02 L390.9 29.02 L390.9 31.3 L392.95 31.3 L392.95 33.41 L395 33.41 L395 35.56 L397.7 35.56 L397.7 37.75 L398.37 37.75 L398.37 39.82 L399.03 39.82 L399.03 41.92 L399.7 41.92 L399.7 44.06 L401.4 44.06 L401.4 46.39 L403.1 46.39 L403.1 48.74 L404.8 48.74 L404.8 50.8 L406.5 50.8 L406.5 52.86 L408.77 52.86 L408.77 53.86 L411.03 53.86 L411.03 54.85 L413.3 54.85 L413.3 55.83 L416.7 55.83 L416.7 56.43 L418.75 56.43 L418.75 57.56 L420.8 57.56 L420.8 58.7 L422.8 58.7 L422.8 59.82 L424.8 59.82 L424.8 60.94 L427.6 60.94 L427.6 62.65 L434.3 62.65 L435.35 62.65 L435.35 64.68 L436.4 64.68 L436.4 66.75 L439.8 66.75 L439.8 68.79 L441.8 68.79 L441.8 71.12 L444.37 71.12 L444.37 71.2 L446.93 71.2 L446.93 71.27 L449.5 71.27 L449.5 71.33 L450.2 71.33 L450.2 72.59 L450.9 72.59 L450.9 73.88 L451.6 73.88 L451.6 76.14 L461.1 76.14 L461.75 76.14 L461.75 76.97 L462.4 76.97 L462.4 77.9 L463.8 77.9 L463.8 78.38 L488.2 78.38 L488.2 76.47 L503.1 76.47" fill="none" stroke="#b0b0ff" stroke-width="0.75" stroke-dasharray="1.6 0.7" opacity="0.85"/>
<path d="M378.7 26.4 L381.1 26.4 L381.1 30.42 L383.5 30.42 L383.5 33.84 L386.9 33.84 L386.9 34.76 L388.9 34.76 L388.9 38.66 L390.9 38.66 L390.9 42.39 L392.95 42.39 L392.95 45.62 L395 45.62 L395 48.79 L397.7 48.79 L397.7 51.92 L398.37 51.92 L398.37 54.77 L399.03 54.77 L399.03 57.59 L399.7 57.59 L399.7 60.37 L401.4 60.37 L401.4 63.35 L403.1 63.35 L403.1 66.31 L404.8 66.31 L404.8 68.87 L406.5 68.87 L406.5 71.41 L408.77 71.41 L408.77 72.64 L411.03 72.64 L411.03 73.87 L413.3 73.87 L413.3 75.1 L416.7 75.1 L416.7 75.87 L418.75 75.87 L418.75 77.36 L420.8 77.36 L420.8 78.85 L422.8 78.85 L422.8 80.34 L424.8 80.34 L424.8 81.83 L427.6 81.83 L427.6 84.17 L434.3 84.17 L435.35 84.17 L435.35 87.27 L436.4 87.27 L436.4 90.32 L439.8 90.32 L439.8 93.37 L441.8 93.37 L441.8 96.82 L444.37 96.82 L444.37 96.93 L446.93 96.93 L446.93 97.05 L449.5 97.05 L449.5 97.17 L450.2 97.17 L450.2 99.52 L450.9 99.52 L450.9 101.81 L451.6 101.81 L451.6 105.61 L461.1 105.61 L461.75 105.61 L461.75 108.62 L462.4 108.62 L462.4 111.47 L463.8 111.47 L463.8 112.98 L488.2 112.98 L488.2 124.07 L503.1 124.07" fill="none" stroke="#b0b0ff" stroke-width="0.75" stroke-dasharray="1.6 0.7" opacity="0.85"/>
<path d="M378.7 25.2 L379.55 25.2 L379.55 27.62 L380.4 27.62 L380.4 30.05 L381.25 30.05 L381.25 32.48 L382.1 32.48 L382.1 34.9 L383.47 34.9 L383.47 37.17 L384.83 37.17 L384.83 39.43 L386.2 39.43 L386.2 41.7 L387.53 41.7 L387.53 43.97 L388.87 43.97 L388.87 46.23 L390.2 46.23 L390.2 48.5 L391.57 48.5 L391.57 50.77 L392.93 50.77 L392.93 53.03 L394.3 53.03 L394.3 55.3 L399.7 55.3 L402.1 55.3 L402.1 58 L404.5 58 L404.5 60.7 L406.55 60.7 L406.55 62.4 L408.6 62.4 L408.6 64.1 L410.83 64.1 L410.83 64.33 L413.07 64.33 L413.07 64.57 L415.3 64.57 L415.3 64.8 L416.65 64.8 L416.65 67.85 L418 67.85 L418 70.9 L420.75 70.9 L420.75 71.9 L423.5 71.9 L423.5 72.9 L425.55 72.9 L425.55 73.9 L427.6 73.9 L427.6 74.9 L429.95 74.9 L429.95 76.6 L432.3 76.6 L432.3 78.3 L433.3 78.3 L433.3 80.7 L434.3 80.7 L434.3 83.1 L436.57 83.1 L436.57 83.33 L438.83 83.33 L438.83 83.57 L441.1 83.57 L441.1 83.8 L443.86 83.8 L443.86 83.84 L446.61 83.84 L446.61 83.89 L449.37 83.89 L449.37 83.93 L452.13 83.93 L452.13 83.97 L454.89 83.97 L454.89 84.01 L457.64 84.01 L457.64 84.06 L460.4 84.06 L460.4 84.1 L461.05 84.1 L461.05 87.3 L461.7 87.3 L461.7 90.5 L463.8 90.5 L463.8 91.9 L463.8 110.2 L484.8 110.2 L484.8 124.4 L490.9 124.4" fill="none" stroke="#ff1a1a" stroke-width="1.65" stroke-linejoin="miter"/>
<path d="M378.7 25.2 L381.1 25.2 L381.1 27.7 L383.5 27.7 L383.5 30.2 L386.9 30.2 L386.9 30.9 L388.9 30.9 L388.9 33.95 L390.9 33.95 L390.9 37 L392.95 37 L392.95 39.7 L395 39.7 L395 42.4 L397.7 42.4 L397.7 45.1 L398.37 45.1 L398.37 47.6 L399.03 47.6 L399.03 50.1 L399.7 50.1 L399.7 52.6 L401.4 52.6 L401.4 55.3 L403.1 55.3 L403.1 58 L404.8 58 L404.8 60.35 L406.5 60.35 L406.5 62.7 L408.77 62.7 L408.77 63.83 L411.03 63.83 L411.03 64.97 L413.3 64.97 L413.3 66.1 L416.7 66.1 L416.7 66.8 L418.75 66.8 L418.75 68.15 L420.8 68.15 L420.8 69.5 L422.8 69.5 L422.8 70.85 L424.8 70.85 L424.8 72.2 L427.6 72.2 L427.6 74.3 L434.3 74.3 L435.35 74.3 L435.35 77 L436.4 77 L436.4 79.7 L439.8 79.7 L439.8 82.4 L441.8 82.4 L441.8 85.5 L444.37 85.5 L444.37 85.6 L446.93 85.6 L446.93 85.7 L449.5 85.7 L449.5 85.8 L450.2 85.8 L450.2 87.8 L450.9 87.8 L450.9 89.8 L451.6 89.8 L451.6 93.2 L461.1 93.2 L461.75 93.2 L461.75 95.6 L462.4 95.6 L462.4 98 L463.8 98 L463.8 99.3 L488.2 99.3 L488.2 108.5 L503.1 108.5" fill="none" stroke="#1a1aff" stroke-width="1.65" stroke-linejoin="miter"/>
<path d="M445.93 82 V85.6 M455.57 82 V85.6 M469.05 108.4 V112 M479.55 108.4 V112 M490.9 122.6 V126.2" stroke="#ff1a1a" stroke-width="1.0" fill="none"/>
<path d="M456.35 91.4 V95 M469.9 97.5 V101.1 M482.1 97.5 V101.1 M495.65 106.7 V110.3 M503.1 106.7 V110.3" stroke="#1a1aff" stroke-width="1.0" fill="none"/>
<line x1="446.8" y1="26.2" x2="457" y2="26.2" stroke="#3030ff" stroke-width="0.95"/>
<text transform="translate(458.8 28.2) scale(1 1.15)" font-size="5.45" fill="#222" stroke="#222" stroke-width="0.15">Low MAT2B Group</text>
<line x1="446.8" y1="31.88" x2="457" y2="31.88" stroke="#ff3030" stroke-width="0.95"/>
<text transform="translate(458.8 33.88) scale(1 1.15)" font-size="5.45" fill="#222" stroke="#222" stroke-width="0.15">High MAT2B Group</text>
<text transform="translate(503.9 40.33) scale(1 1.15)" font-size="5.45" text-anchor="end" fill="#222" stroke="#222" stroke-width="0.15">Logrank p=0.31</text>
<text transform="translate(503.9 46.78) scale(1 1.15)" font-size="5.45" text-anchor="end" fill="#222" stroke="#222" stroke-width="0.15">HR(high)=1.2</text>
<text transform="translate(503.9 53.23) scale(1 1.15)" font-size="5.45" text-anchor="end" fill="#222" stroke="#222" stroke-width="0.15">p(HR)=0.31</text>
<text transform="translate(503.9 59.68) scale(1 1.15)" font-size="5.45" text-anchor="end" fill="#222" stroke="#222" stroke-width="0.15">n(high)=182</text>
<text transform="translate(503.9 66.13) scale(1 1.15)" font-size="5.45" text-anchor="end" fill="#222" stroke="#222" stroke-width="0.15">n(low)=182</text>
<text x="383" y="139.3" font-size="9.4" font-weight="bold" fill="#111" stroke="#111" stroke-width="0.2">LIHC MAT2B</text>
<text x="9.2" y="195.3" font-size="10.2" font-weight="bold" fill="#111" stroke="#111" stroke-width="0.2">(D)</text>
<text x="98.12" y="200.3" font-size="8.45" text-anchor="middle" fill="#111" stroke="#111" stroke-width="0.2">Overall Survival</text>
<rect x="31.25" y="202.75" width="133.75" height="126.75" fill="none" stroke="#7a7a7a" stroke-width="0.9"/>
<line x1="31.4" y1="329.5" x2="31.4" y2="332.9" stroke="#7a7a7a" stroke-width="0.9"/>
<text x="31.4" y="340.8" font-size="5.4" text-anchor="middle" fill="#333" stroke="#333" stroke-width="0.2">0</text>
<line x1="52.15" y1="329.5" x2="52.15" y2="332.9" stroke="#7a7a7a" stroke-width="0.9"/>
<text x="52.15" y="340.8" font-size="5.4" text-anchor="middle" fill="#333" stroke="#333" stroke-width="0.2">20</text>
<line x1="72.9" y1="329.5" x2="72.9" y2="332.9" stroke="#7a7a7a" stroke-width="0.9"/>
<text x="72.9" y="340.8" font-size="5.4" text-anchor="middle" fill="#333" stroke="#333" stroke-width="0.2">40</text>
<line x1="93.65" y1="329.5" x2="93.65" y2="332.9" stroke="#7a7a7a" stroke-width="0.9"/>
<text x="93.65" y="340.8" font-size="5.4" text-anchor="middle" fill="#333" stroke="#333" stroke-width="0.2">60</text>
<line x1="114.4" y1="329.5" x2="114.4" y2="332.9" stroke="#7a7a7a" stroke-width="0.9"/>
<text x="114.4" y="340.8" font-size="5.4" text-anchor="middle" fill="#333" stroke="#333" stroke-width="0.2">80</text>
<line x1="135.15" y1="329.5" x2="135.15" y2="332.9" stroke="#7a7a7a" stroke-width="0.9"/>
<text x="135.15" y="340.8" font-size="5.4" text-anchor="middle" fill="#333" stroke="#333" stroke-width="0.2">100</text>
<line x1="155.9" y1="329.5" x2="155.9" y2="332.9" stroke="#7a7a7a" stroke-width="0.9"/>
<text x="155.9" y="340.8" font-size="5.4" text-anchor="middle" fill="#333" stroke="#333" stroke-width="0.2">120</text>
<line x1="27.85" y1="324.5" x2="31.25" y2="324.5" stroke="#7a7a7a" stroke-width="0.9"/>
<text transform="translate(23.5 324.5) rotate(-90)" font-size="5.4" text-anchor="middle" fill="#333" stroke="#333" stroke-width="0.2">0.0</text>
<line x1="27.85" y1="301.12" x2="31.25" y2="301.12" stroke="#7a7a7a" stroke-width="0.9"/>
<text transform="translate(23.5 301.12) rotate(-90)" font-size="5.4" text-anchor="middle" fill="#333" stroke="#333" stroke-width="0.2">0.2</text>
<line x1="27.85" y1="277.74" x2="31.25" y2="277.74" stroke="#7a7a7a" stroke-width="0.9"/>
<text transform="translate(23.5 277.74) rotate(-90)" font-size="5.4" text-anchor="middle" fill="#333" stroke="#333" stroke-width="0.2">0.4</text>
<line x1="27.85" y1="254.36" x2="31.25" y2="254.36" stroke="#7a7a7a" stroke-width="0.9"/>
<text transform="translate(23.5 254.36) rotate(-90)" font-size="5.4" text-anchor="middle" fill="#333" stroke="#333" stroke-width="0.2">0.6</text>
<line x1="27.85" y1="230.98" x2="31.25" y2="230.98" stroke="#7a7a7a" stroke-width="0.9"/>
<text transform="translate(23.5 230.98) rotate(-90)" font-size="5.4" text-anchor="middle" fill="#333" stroke="#333" stroke-width="0.2">0.8</text>
<line x1="27.85" y1="207.6" x2="31.25" y2="207.6" stroke="#7a7a7a" stroke-width="0.9"/>
<text transform="translate(23.5 207.6) rotate(-90)" font-size="5.4" text-anchor="middle" fill="#333" stroke="#333" stroke-width="0.2">1.0</text>
<text x="98.12" y="351" font-size="7.2" text-anchor="middle" fill="#111" stroke="#111" stroke-width="0.2">Months</text>
<text transform="translate(13.5 266.12) rotate(-90)" font-size="7.2" text-anchor="middle" fill="#111" stroke="#111" stroke-width="0.2">Percent survival</text>
<path d="M31.7 207.6 L33.07 207.6 L33.07 207.81 L34.43 207.81 L34.43 209.21 L35.8 209.21 L35.8 210.81 L38.5 210.81 L38.5 212.04 L41.2 212.04 L41.2 213.3 L43 213.3 L43 215.37 L44.8 215.37 L44.8 217.5 L46.6 217.5 L46.6 219.68 L48.65 219.68 L48.65 220.25 L50.7 220.25 L50.7 220.82 L54.1 220.82 L54.1 223 L55.8 223 L55.8 224.97 L57.5 224.97 L57.5 226.97 L59.85 226.97 L59.85 229.52 L62.2 229.52 L62.2 232.09 L65.25 232.09 L65.25 233.23 L68.3 233.23 L68.3 234.36 L71.05 234.36 L71.05 236.3 L73.8 236.3 L73.8 238.25 L76.5 238.25 L76.5 238.82 L79.2 238.82 L79.2 239.38 L81.47 239.38 L81.47 240.28 L83.73 240.28 L83.73 241.17 L86 241.17 L86 242.04 L88.05 242.04 L88.05 243.02 L90.1 243.02 L90.1 244 L105.2 244 L105.55 244 L105.55 245 L105.9 245 L105.9 246.1 L116 246.1 L116.23 246.1 L116.23 246.6 L116.47 246.6 L116.47 247.3 L116.7 247.3 L116.7 248.14 L119.4 248.14 L119.4 248.33 L119.44 248.33 L119.44 249.19 L119.49 249.19 L119.49 250.24 L119.53 250.24 L119.53 251.44 L119.57 251.44 L119.57 252.79 L119.61 252.79 L119.61 254.26 L119.66 254.26 L119.66 255.83 L119.7 255.83 L119.7 257.5 L139.8 257.5 L139.92 257.5 L139.92 257.28 L140.04 257.28 L140.04 257.6 L140.16 257.6 L140.16 258.4 L140.28 258.4 L140.28 259.68 L140.4 259.68 L140.4 261.42 L160.1 261.42" fill="none" stroke="#ffb0b0" stroke-width="0.75" stroke-dasharray="1.6 0.7" opacity="0.85"/>
<path d="M31.7 209.41 L33.07 209.41 L33.07 213.2 L34.43 213.2 L34.43 216.41 L35.8 216.41 L35.8 219.42 L38.5 219.42 L38.5 221.55 L41.2 221.55 L41.2 223.64 L43 223.64 L43 226.91 L44.8 226.91 L44.8 230.11 L46.6 230.11 L46.6 233.25 L48.65 233.25 L48.65 234.06 L50.7 234.06 L50.7 234.87 L54.1 234.87 L54.1 238 L55.8 238 L55.8 240.75 L57.5 240.75 L57.5 243.47 L59.85 243.47 L59.85 246.91 L62.2 246.91 L62.2 250.31 L65.25 250.31 L65.25 251.81 L68.3 251.81 L68.3 253.32 L71.05 253.32 L71.05 255.96 L73.8 255.96 L73.8 258.59 L76.5 258.59 L76.5 259.37 L79.2 259.37 L79.2 260.16 L81.47 260.16 L81.47 261.46 L83.73 261.46 L83.73 262.75 L86 262.75 L86 264.06 L88.05 264.06 L88.05 265.56 L90.1 265.56 L90.1 267.06 L105.2 267.06 L105.55 267.06 L105.55 269.79 L105.9 269.79 L105.9 272.42 L116 272.42 L116.23 272.42 L116.23 275.73 L116.47 275.73 L116.47 278.85 L116.7 278.85 L116.7 281.8 L119.4 281.8 L119.4 282.74 L119.44 282.74 L119.44 286.17 L119.49 286.17 L119.49 289.4 L119.53 289.4 L119.53 292.45 L119.57 292.45 L119.57 295.36 L119.61 295.36 L119.61 298.12 L119.66 298.12 L119.66 300.77 L119.7 300.77 L119.7 303.29 L139.8 303.29 L139.92 303.29 L139.92 306.11 L140.04 306.11 L140.04 308.6 L140.16 308.6 L140.16 310.81 L140.28 310.81 L140.28 312.8 L140.4 312.8 L140.4 314.59 L160.1 314.59" fill="none" stroke="#ffb0b0" stroke-width="0.75" stroke-dasharray="1.6 0.7" opacity="0.85"/>
<path d="M31.7 207.6 L33.75 207.6 L33.75 208.25 L35.8 208.25 L35.8 210.29 L37.15 210.29 L37.15 212.27 L38.5 212.27 L38.5 214.36 L39.85 214.36 L39.85 216.52 L41.2 216.52 L41.2 218.74 L42.8 218.74 L42.8 221.18 L44.4 221.18 L44.4 223.65 L46 223.65 L46 226.17 L48 226.17 L48 228.24 L50 228.24 L50 230.33 L51.7 230.33 L51.7 232.38 L53.4 232.38 L53.4 234.45 L55.45 234.45 L55.45 236.53 L57.5 236.53 L57.5 238.6 L59.55 238.6 L59.55 241.04 L61.6 241.04 L61.6 243.49 L63.83 243.49 L63.83 244.09 L66.07 244.09 L66.07 244.68 L68.3 244.68 L68.3 245.26 L70.57 245.26 L70.57 246.64 L72.83 246.64 L72.83 248.02 L75.1 248.02 L75.1 249.38 L77.85 249.38 L77.85 251.07 L80.6 251.07 L80.6 252.74 L83.3 252.74 L83.3 254.73 L86 254.73 L86 256.7 L88.05 256.7 L88.05 258.13 L90.1 258.13 L90.1 259.55 L91.73 259.55 L91.73 261.71 L93.37 261.71 L93.37 263.87 L95 263.87 L95 266.04 L97.72 266.04 L97.72 266.3 L100.45 266.3 L100.45 266.55 L103.18 266.55 L103.18 266.77 L105.9 266.77 L105.9 266.98 L107.2 266.98 L107.2 269.02 L116.7 269.02 L117.05 269.02 L117.05 269.85 L117.4 269.85 L117.4 270.99 L143.8 270.99 L143.98 270.99 L143.98 270.27 L144.15 270.27 L144.15 270.37 L144.32 270.37 L144.32 271.19 L144.5 271.19 L144.5 272.68 L151.3 272.68" fill="none" stroke="#b0b0ff" stroke-width="0.75" stroke-dasharray="1.6 0.7" opacity="0.85"/>
<path d="M31.7 209.41 L33.75 209.41 L33.75 214.37 L35.8 214.37 L35.8 218.55 L37.15 218.55 L37.15 221.96 L38.5 221.96 L38.5 225.26 L39.85 225.26 L39.85 228.48 L41.2 228.48 L41.2 231.64 L42.8 231.64 L42.8 235 L44.4 235 L44.4 238.3 L46 238.3 L46 241.58 L48 241.58 L48 244.23 L50 244.23 L50 246.87 L51.7 246.87 L51.7 249.44 L53.4 249.44 L53.4 252 L55.45 252 L55.45 254.54 L57.5 254.54 L57.5 257.08 L59.55 257.08 L59.55 260.03 L61.6 260.03 L61.6 262.97 L63.83 262.97 L63.83 263.68 L66.07 263.68 L66.07 264.39 L68.3 264.39 L68.3 265.11 L70.57 265.11 L70.57 266.85 L72.83 266.85 L72.83 268.58 L75.1 268.58 L75.1 270.31 L77.85 270.31 L77.85 272.49 L80.6 272.49 L80.6 274.66 L83.3 274.66 L83.3 277.28 L86 277.28 L86 279.88 L88.05 279.88 L88.05 281.77 L90.1 281.77 L90.1 283.66 L91.73 283.66 L91.73 286.52 L93.37 286.52 L93.37 289.35 L95 289.35 L95 292.13 L97.72 292.13 L97.72 292.47 L100.45 292.47 L100.45 292.82 L103.18 292.82 L103.18 293.17 L105.9 293.17 L105.9 293.54 L107.2 293.54 L107.2 297.37 L116.7 297.37 L117.05 297.37 L117.05 301.37 L117.4 301.37 L117.4 305 L143.8 305 L143.98 305 L143.98 308.37 L144.15 308.37 L144.15 311.18 L144.32 311.18 L144.32 313.58 L144.5 313.58 L144.5 315.66 L151.3 315.66" fill="none" stroke="#b0b0ff" stroke-width="0.75" stroke-dasharray="1.6 0.7" opacity="0.85"/>
<path d="M31.7 208.2 L33.07 208.2 L33.07 210.53 L34.43 210.53 L34.43 212.87 L35.8 212.87 L35.8 215.2 L38.5 215.2 L38.5 216.9 L41.2 216.9 L41.2 218.6 L43 218.6 L43 221.3 L44.8 221.3 L44.8 224 L46.6 224 L46.6 226.7 L48.65 226.7 L48.65 227.4 L50.7 227.4 L50.7 228.1 L54.1 228.1 L54.1 230.8 L55.8 230.8 L55.8 233.2 L57.5 233.2 L57.5 235.6 L59.85 235.6 L59.85 238.65 L62.2 238.65 L62.2 241.7 L65.25 241.7 L65.25 243.05 L68.3 243.05 L68.3 244.4 L71.05 244.4 L71.05 246.75 L73.8 246.75 L73.8 249.1 L76.5 249.1 L76.5 249.8 L79.2 249.8 L79.2 250.5 L81.47 250.5 L81.47 251.63 L83.73 251.63 L83.73 252.77 L86 252.77 L86 253.9 L88.05 253.9 L88.05 255.2 L90.1 255.2 L90.1 256.5 L105.2 256.5 L105.55 256.5 L105.55 258.55 L105.9 258.55 L105.9 260.6 L116 260.6 L116.23 260.6 L116.23 262.87 L116.47 262.87 L116.47 265.13 L116.7 265.13 L116.7 267.4 L119.4 267.4 L119.4 268.1 L119.44 268.1 L119.44 270.77 L119.49 270.77 L119.49 273.44 L119.53 273.44 L119.53 276.11 L119.57 276.11 L119.57 278.79 L119.61 278.79 L119.61 281.46 L119.66 281.46 L119.66 284.13 L119.7 284.13 L119.7 286.8 L139.8 286.8 L139.92 286.8 L139.92 289.34 L140.04 289.34 L140.04 291.88 L140.16 291.88 L140.16 294.42 L140.28 294.42 L140.28 296.96 L140.4 296.96 L140.4 299.5 L160.1 299.5" fill="none" stroke="#ff1a1a" stroke-width="1.65" stroke-linejoin="miter"/>
<path d="M31.7 208.2 L33.75 208.2 L33.75 211.35 L35.8 211.35 L35.8 214.5 L37.15 214.5 L37.15 217.22 L38.5 217.22 L38.5 219.95 L39.85 219.95 L39.85 222.68 L41.2 222.68 L41.2 225.4 L42.8 225.4 L42.8 228.33 L44.4 228.33 L44.4 231.27 L46 231.27 L46 234.2 L48 234.2 L48 236.6 L50 236.6 L50 239 L51.7 239 L51.7 241.35 L53.4 241.35 L53.4 243.7 L55.45 243.7 L55.45 246.05 L57.5 246.05 L57.5 248.4 L59.55 248.4 L59.55 251.15 L61.6 251.15 L61.6 253.9 L63.83 253.9 L63.83 254.57 L66.07 254.57 L66.07 255.23 L68.3 255.23 L68.3 255.9 L70.57 255.9 L70.57 257.5 L72.83 257.5 L72.83 259.1 L75.1 259.1 L75.1 260.7 L77.85 260.7 L77.85 262.7 L80.6 262.7 L80.6 264.7 L83.3 264.7 L83.3 267.1 L86 267.1 L86 269.5 L88.05 269.5 L88.05 271.25 L90.1 271.25 L90.1 273 L91.73 273 L91.73 275.67 L93.37 275.67 L93.37 278.33 L95 278.33 L95 281 L97.72 281 L97.72 281.32 L100.45 281.32 L100.45 281.65 L103.18 281.65 L103.18 281.98 L105.9 281.98 L105.9 282.3 L107.2 282.3 L107.2 285.7 L116.7 285.7 L117.05 285.7 L117.05 288.95 L117.4 288.95 L117.4 292.2 L143.8 292.2 L143.98 292.2 L143.98 294.93 L144.15 294.93 L144.15 297.65 L144.32 297.65 L144.32 300.38 L144.5 300.38 L144.5 303.1 L151.3 303.1" fill="none" stroke="#1a1aff" stroke-width="1.65" stroke-linejoin="miter"/>
<path d="M97.65 254.7 V258.3 M110.95 258.8 V262.4 M124.73 285 V288.6 M134.78 285 V288.6 M145.32 297.7 V301.3 M155.18 297.7 V301.3 M160.1 297.7 V301.3" stroke="#ff1a1a" stroke-width="1.0" fill="none"/>
<path d="M111.95 283.9 V287.5 M124 290.4 V294 M137.2 290.4 V294 M151.3 301.3 V304.9" stroke="#1a1aff" stroke-width="1.0" fill="none"/>
<line x1="103.5" y1="209.6" x2="114.2" y2="209.6" stroke="#3030ff" stroke-width="0.95"/>
<text transform="translate(116 211.6) scale(1 1.15)" font-size="5.45" fill="#222" stroke="#222" stroke-width="0.15">Low GNMT Group</text>
<line x1="103.5" y1="215.28" x2="114.2" y2="215.28" stroke="#ff3030" stroke-width="0.95"/>
<text transform="translate(116 217.28) scale(1 1.15)" font-size="5.45" fill="#222" stroke="#222" stroke-width="0.15">High GNMT Group</text>
<text transform="translate(161.3 223.73) scale(1 1.15)" font-size="5.45" text-anchor="end" fill="#222" stroke="#222" stroke-width="0.15">Logrank p=0.012</text>
<text transform="translate(161.3 230.18) scale(1 1.15)" font-size="5.45" text-anchor="end" fill="#222" stroke="#222" stroke-width="0.15">HR(high)=0.64</text>
<text transform="translate(161.3 236.63) scale(1 1.15)" font-size="5.45" text-anchor="end" fill="#222" stroke="#222" stroke-width="0.15">p(HR)=0.013</text>
<text transform="translate(161.3 243.08) scale(1 1.15)" font-size="5.45" text-anchor="end" fill="#222" stroke="#222" stroke-width="0.15">n(high)=182</text>
<text transform="translate(161.3 249.53) scale(1 1.15)" font-size="5.45" text-anchor="end" fill="#222" stroke="#222" stroke-width="0.15">n(low)=182</text>
<text x="36.3" y="324.7" font-size="9.4" font-weight="bold" fill="#111" stroke="#111" stroke-width="0.2">LIHC GNMT</text>
<text x="177.3" y="195.3" font-size="10.2" font-weight="bold" fill="#111" stroke="#111" stroke-width="0.2">(E)</text>
<text x="272.32" y="199.6" font-size="8.45" text-anchor="middle" fill="#111" stroke="#111" stroke-width="0.2">Overall Survival</text>
<rect x="206.25" y="202" width="132.15" height="125.5" fill="none" stroke="#7a7a7a" stroke-width="0.9"/>
<line x1="206.4" y1="327.5" x2="206.4" y2="330.9" stroke="#7a7a7a" stroke-width="0.9"/>
<text x="206.4" y="339.2" font-size="5.4" text-anchor="middle" fill="#333" stroke="#333" stroke-width="0.2">0</text>
<line x1="227.15" y1="327.5" x2="227.15" y2="330.9" stroke="#7a7a7a" stroke-width="0.9"/>
<text x="227.15" y="339.2" font-size="5.4" text-anchor="middle" fill="#333" stroke="#333" stroke-width="0.2">20</text>
<line x1="247.9" y1="327.5" x2="247.9" y2="330.9" stroke="#7a7a7a" stroke-width="0.9"/>
<text x="247.9" y="339.2" font-size="5.4" text-anchor="middle" fill="#333" stroke="#333" stroke-width="0.2">40</text>
<line x1="268.65" y1="327.5" x2="268.65" y2="330.9" stroke="#7a7a7a" stroke-width="0.9"/>
<text x="268.65" y="339.2" font-size="5.4" text-anchor="middle" fill="#333" stroke="#333" stroke-width="0.2">60</text>
<line x1="289.4" y1="327.5" x2="289.4" y2="330.9" stroke="#7a7a7a" stroke-width="0.9"/>
<text x="289.4" y="339.2" font-size="5.4" text-anchor="middle" fill="#333" stroke="#333" stroke-width="0.2">80</text>
<line x1="310.15" y1="327.5" x2="310.15" y2="330.9" stroke="#7a7a7a" stroke-width="0.9"/>
<text x="310.15" y="339.2" font-size="5.4" text-anchor="middle" fill="#333" stroke="#333" stroke-width="0.2">100</text>
<line x1="330.9" y1="327.5" x2="330.9" y2="330.9" stroke="#7a7a7a" stroke-width="0.9"/>
<text x="330.9" y="339.2" font-size="5.4" text-anchor="middle" fill="#333" stroke="#333" stroke-width="0.2">120</text>
<line x1="202.85" y1="322.5" x2="206.25" y2="322.5" stroke="#7a7a7a" stroke-width="0.9"/>
<text transform="translate(198.8 322.5) rotate(-90)" font-size="5.4" text-anchor="middle" fill="#333" stroke="#333" stroke-width="0.2">0.0</text>
<line x1="202.85" y1="299.36" x2="206.25" y2="299.36" stroke="#7a7a7a" stroke-width="0.9"/>
<text transform="translate(198.8 299.36) rotate(-90)" font-size="5.4" text-anchor="middle" fill="#333" stroke="#333" stroke-width="0.2">0.2</text>
<line x1="202.85" y1="276.22" x2="206.25" y2="276.22" stroke="#7a7a7a" stroke-width="0.9"/>
<text transform="translate(198.8 276.22) rotate(-90)" font-size="5.4" text-anchor="middle" fill="#333" stroke="#333" stroke-width="0.2">0.4</text>
<line x1="202.85" y1="253.08" x2="206.25" y2="253.08" stroke="#7a7a7a" stroke-width="0.9"/>
<text transform="translate(198.8 253.08) rotate(-90)" font-size="5.4" text-anchor="middle" fill="#333" stroke="#333" stroke-width="0.2">0.6</text>
<line x1="202.85" y1="229.94" x2="206.25" y2="229.94" stroke="#7a7a7a" stroke-width="0.9"/>
<text transform="translate(198.8 229.94) rotate(-90)" font-size="5.4" text-anchor="middle" fill="#333" stroke="#333" stroke-width="0.2">0.8</text>
<line x1="202.85" y1="206.8" x2="206.25" y2="206.8" stroke="#7a7a7a" stroke-width="0.9"/>
<text transform="translate(198.8 206.8) rotate(-90)" font-size="5.4" text-anchor="middle" fill="#333" stroke="#333" stroke-width="0.2">1.0</text>
<text x="272.32" y="349.3" font-size="7.2" text-anchor="middle" fill="#111" stroke="#111" stroke-width="0.2">Months</text>
<text transform="translate(189 264.75) rotate(-90)" font-size="7.2" text-anchor="middle" fill="#111" stroke="#111" stroke-width="0.2">Percent survival</text>
<path d="M206.7 206.8 L208.75 206.8 L208.75 207.18 L210.8 207.18 L210.8 208.96 L212.85 208.96 L212.85 209.89 L214.9 209.89 L214.9 210.86 L216.55 210.86 L216.55 212.6 L218.2 212.6 L218.2 214.4 L221.6 214.4 L221.6 216.52 L224 216.52 L224 217.35 L226.4 217.35 L226.4 218.18 L228.75 218.18 L228.75 220.34 L231.1 220.34 L231.1 222.52 L232.93 222.52 L232.93 224.74 L234.77 224.74 L234.77 226.99 L236.6 226.99 L236.6 229.26 L238.83 229.26 L238.83 229.65 L241.07 229.65 L241.07 230.04 L243.3 230.04 L243.3 230.42 L246.05 230.42 L246.05 232.33 L248.8 232.33 L248.8 234.24 L251.15 234.24 L251.15 234.81 L253.5 234.81 L253.5 235.36 L255.9 235.36 L255.9 236.42 L258.3 236.42 L258.3 237.47 L261 237.47 L261 239.3 L263.7 239.3 L263.7 241.12 L265.85 241.12 L265.85 242.41 L268 242.41 L268 243.68 L269.7 243.68 L269.7 245.17 L271.4 245.17 L271.4 246.65 L273.9 246.65 L273.9 246.75 L276.4 246.75 L276.4 246.84 L278.9 246.84 L278.9 246.92 L279.9 246.92 L279.9 248.67 L280.9 248.67 L280.9 250.49 L283.27 250.49 L283.27 250.6 L285.65 250.6 L285.65 250.7 L288.02 250.7 L288.02 250.78 L290.4 250.78 L290.4 250.84 L291.05 250.84 L291.05 251.83 L291.7 251.83 L291.7 252.95 L293.8 252.95 L293.8 253.21 L293.92 253.21 L293.92 254.26 L294.03 254.26 L294.03 255.48 L294.15 255.48 L294.15 256.83 L294.27 256.83 L294.27 258.31 L294.38 258.31 L294.38 259.89 L294.5 259.89 L294.5 261.56 L314.8 261.56 L314.87 261.56 L314.87 261.84 L314.93 261.84 L314.93 262.75 L315 262.75 L315 264.24 L315.07 264.24 L315.07 266.33 L315.13 266.33 L315.13 269.03 L315.2 269.03 L315.2 272.41 L333.8 272.41" fill="none" stroke="#ffb0b0" stroke-width="0.75" stroke-dasharray="1.6 0.7" opacity="0.85"/>
<path d="M206.7 208.19 L208.75 208.19 L208.75 212.85 L210.8 212.85 L210.8 216.71 L212.85 216.71 L212.85 218.44 L214.9 218.44 L214.9 220.14 L216.55 220.14 L216.55 223.04 L218.2 223.04 L218.2 225.88 L221.6 225.88 L221.6 229.09 L224 229.09 L224 230.32 L226.4 230.32 L226.4 231.56 L228.75 231.56 L228.75 234.72 L231.1 234.72 L231.1 237.84 L232.93 237.84 L232.93 240.93 L234.77 240.93 L234.77 243.98 L236.6 243.98 L236.6 247.01 L238.83 247.01 L238.83 247.53 L241.07 247.53 L241.07 248.05 L243.3 248.05 L243.3 248.58 L246.05 248.58 L246.05 251.26 L248.8 251.26 L248.8 253.92 L251.15 253.92 L251.15 254.71 L253.5 254.71 L253.5 255.51 L255.9 255.51 L255.9 257.06 L258.3 257.06 L258.3 258.62 L261 258.62 L261 261.4 L263.7 261.4 L263.7 264.16 L265.85 264.16 L265.85 266.12 L268 266.12 L268 268.07 L269.7 268.07 L269.7 270.36 L271.4 270.36 L271.4 272.64 L273.9 272.64 L273.9 272.79 L276.4 272.79 L276.4 272.95 L278.9 272.95 L278.9 273.11 L279.9 273.11 L279.9 276.54 L280.9 276.54 L280.9 279.88 L283.27 279.88 L283.27 280.08 L285.65 280.08 L285.65 280.29 L288.02 280.29 L288.02 280.51 L290.4 280.51 L290.4 280.74 L291.05 280.74 L291.05 284.24 L291.7 284.24 L291.7 287.55 L293.8 287.55 L293.8 288.41 L293.92 288.41 L293.92 291.65 L294.03 291.65 L294.03 294.7 L294.15 294.7 L294.15 297.58 L294.27 297.58 L294.27 300.32 L294.38 300.32 L294.38 302.92 L294.5 302.92 L294.5 305.38 L314.8 305.38 L314.87 305.38 L314.87 308.07 L314.93 308.07 L314.93 310.42 L315 310.42 L315 312.49 L315.07 312.49 L315.07 314.32 L315.13 314.32 L315.13 315.95 L315.2 315.95 L315.2 317.39 L333.8 317.39" fill="none" stroke="#ffb0b0" stroke-width="0.75" stroke-dasharray="1.6 0.7" opacity="0.85"/>
<path d="M206.7 206.8 L208.07 206.8 L208.07 207.16 L209.43 207.16 L209.43 208.92 L210.8 208.92 L210.8 210.91 L212.85 210.91 L212.85 212.96 L214.9 212.96 L214.9 215.07 L216.23 215.07 L216.23 216.9 L217.57 216.9 L217.57 218.76 L218.9 218.76 L218.9 220.64 L219.8 220.64 L219.8 222.93 L220.7 222.93 L220.7 225.25 L221.6 225.25 L221.6 227.6 L223.65 227.6 L223.65 229.39 L225.7 229.39 L225.7 231.19 L226.83 231.19 L226.83 233.19 L227.97 233.19 L227.97 235.21 L229.1 235.21 L229.1 237.24 L231.45 237.24 L231.45 239.34 L233.8 239.34 L233.8 241.45 L236.55 241.45 L236.55 242.97 L239.3 242.97 L239.3 244.48 L242 244.48 L242 246.29 L244.7 246.29 L244.7 248.09 L246.97 248.09 L246.97 249.25 L249.23 249.25 L249.23 250.41 L251.5 250.41 L251.5 251.56 L253.55 251.56 L253.55 253.61 L255.6 253.61 L255.6 255.66 L258.3 255.66 L258.3 256.8 L261 256.8 L261 257.92 L263 257.92 L263 258.54 L265 258.54 L265 259.14 L268 259.14 L268 261.46 L291.7 261.46 L291.93 261.46 L291.93 261.76 L292.17 261.76 L292.17 262.4 L292.4 262.4 L292.4 263.29 L318.9 263.29 L319.07 263.29 L319.07 261.69 L319.25 261.69 L319.25 260.9 L319.43 260.9 L319.43 260.74 L319.6 260.74 L319.6 261.11 L326.3 261.11" fill="none" stroke="#b0b0ff" stroke-width="0.75" stroke-dasharray="1.6 0.7" opacity="0.85"/>
<path d="M206.7 208.19 L208.07 208.19 L208.07 212.77 L209.43 212.77 L209.43 216.55 L210.8 216.55 L210.8 220.09 L212.85 220.09 L212.85 223.38 L214.9 223.38 L214.9 226.6 L216.23 226.6 L216.23 229.25 L217.57 229.25 L217.57 231.87 L218.9 231.87 L218.9 234.45 L219.8 234.45 L219.8 237.5 L220.7 237.5 L220.7 240.5 L221.6 240.5 L221.6 243.48 L223.65 243.48 L223.65 245.72 L225.7 245.72 L225.7 247.96 L226.83 247.96 L226.83 250.42 L227.97 250.42 L227.97 252.86 L229.1 252.86 L229.1 255.29 L231.45 255.29 L231.45 257.8 L233.8 257.8 L233.8 260.3 L236.55 260.3 L236.55 262.11 L239.3 262.11 L239.3 263.93 L242 263.93 L242 266.12 L244.7 266.12 L244.7 268.31 L246.97 268.31 L246.97 269.74 L249.23 269.74 L249.23 271.16 L251.5 271.16 L251.5 272.6 L253.55 272.6 L253.55 275.17 L255.6 275.17 L255.6 277.74 L258.3 277.74 L258.3 279.18 L261 279.18 L261 280.63 L263 280.63 L263 281.43 L265 281.43 L265 282.25 L268 282.25 L268 285.54 L291.7 285.54 L291.93 285.54 L291.93 289.46 L292.17 289.46 L292.17 293.01 L292.4 293.01 L292.4 296.28 L318.9 296.28 L319.07 296.28 L319.07 300.05 L319.25 300.05 L319.25 303.18 L319.43 303.18 L319.43 305.87 L319.6 305.87 L319.6 308.23 L326.3 308.23" fill="none" stroke="#b0b0ff" stroke-width="0.75" stroke-dasharray="1.6 0.7" opacity="0.85"/>
<path d="M206.7 207.2 L208.75 207.2 L208.75 210.05 L210.8 210.05 L210.8 212.9 L212.85 212.9 L212.85 214.25 L214.9 214.25 L214.9 215.6 L216.55 215.6 L216.55 217.95 L218.2 217.95 L218.2 220.3 L221.6 220.3 L221.6 223 L224 223 L224 224.05 L226.4 224.05 L226.4 225.1 L228.75 225.1 L228.75 227.8 L231.1 227.8 L231.1 230.5 L232.93 230.5 L232.93 233.2 L234.77 233.2 L234.77 235.9 L236.6 235.9 L236.6 238.6 L238.83 238.6 L238.83 239.07 L241.07 239.07 L241.07 239.53 L243.3 239.53 L243.3 240 L246.05 240 L246.05 242.35 L248.8 242.35 L248.8 244.7 L251.15 244.7 L251.15 245.4 L253.5 245.4 L253.5 246.1 L255.9 246.1 L255.9 247.45 L258.3 247.45 L258.3 248.8 L261 248.8 L261 251.2 L263.7 251.2 L263.7 253.6 L265.85 253.6 L265.85 255.3 L268 255.3 L268 257 L269.7 257 L269.7 259 L271.4 259 L271.4 261 L273.9 261 L273.9 261.13 L276.4 261.13 L276.4 261.27 L278.9 261.27 L278.9 261.4 L279.9 261.4 L279.9 264.25 L280.9 264.25 L280.9 267.1 L283.27 267.1 L283.27 267.28 L285.65 267.28 L285.65 267.45 L288.02 267.45 L288.02 267.62 L290.4 267.62 L290.4 267.8 L291.05 267.8 L291.05 270.5 L291.7 270.5 L291.7 273.2 L293.8 273.2 L293.8 273.9 L293.92 273.9 L293.92 276.62 L294.03 276.62 L294.03 279.33 L294.15 279.33 L294.15 282.05 L294.27 282.05 L294.27 284.77 L294.38 284.77 L294.38 287.48 L294.5 287.48 L294.5 290.2 L314.8 290.2 L314.87 290.2 L314.87 292.92 L314.93 292.92 L314.93 295.63 L315 295.63 L315 298.35 L315.07 298.35 L315.07 301.07 L315.13 301.07 L315.13 303.78 L315.2 303.78 L315.2 306.5 L333.8 306.5" fill="none" stroke="#ff1a1a" stroke-width="1.65" stroke-linejoin="miter"/>
<path d="M206.7 207.2 L208.07 207.2 L208.07 210 L209.43 210 L209.43 212.8 L210.8 212.8 L210.8 215.6 L212.85 215.6 L212.85 218.3 L214.9 218.3 L214.9 221 L216.23 221 L216.23 223.27 L217.57 223.27 L217.57 225.53 L218.9 225.53 L218.9 227.8 L219.8 227.8 L219.8 230.5 L220.7 230.5 L220.7 233.2 L221.6 233.2 L221.6 235.9 L223.65 235.9 L223.65 237.95 L225.7 237.95 L225.7 240 L226.83 240 L226.83 242.27 L227.97 242.27 L227.97 244.53 L229.1 244.53 L229.1 246.8 L231.45 246.8 L231.45 249.15 L233.8 249.15 L233.8 251.5 L236.55 251.5 L236.55 253.2 L239.3 253.2 L239.3 254.9 L242 254.9 L242 256.95 L244.7 256.95 L244.7 259 L246.97 259 L246.97 260.33 L249.23 260.33 L249.23 261.67 L251.5 261.67 L251.5 263 L253.55 263 L253.55 265.4 L255.6 265.4 L255.6 267.8 L258.3 267.8 L258.3 269.15 L261 269.15 L261 270.5 L263 270.5 L263 271.25 L265 271.25 L265 272 L268 272 L268 275 L291.7 275 L291.93 275 L291.93 277.7 L292.17 277.7 L292.17 280.4 L292.4 280.4 L292.4 283.1 L318.9 283.1 L319.07 283.1 L319.07 285.55 L319.25 285.55 L319.25 288 L319.43 288 L319.43 290.45 L319.6 290.45 L319.6 292.9 L326.3 292.9" fill="none" stroke="#1a1aff" stroke-width="1.65" stroke-linejoin="miter"/>
<path d="M299.57 288.4 V292 M309.73 288.4 V292 M319.85 304.7 V308.3 M329.15 304.7 V308.3 M333.8 304.7 V308.3" stroke="#ff1a1a" stroke-width="1.0" fill="none"/>
<path d="M273.93 273.2 V276.8 M285.77 273.2 V276.8 M299.02 281.3 V284.9 M312.27 281.3 V284.9 M326.3 291.1 V294.7" stroke="#1a1aff" stroke-width="1.0" fill="none"/>
<line x1="278.75" y1="208.3" x2="288.5" y2="208.3" stroke="#3030ff" stroke-width="0.95"/>
<text transform="translate(290.3 210.3) scale(1 1.15)" font-size="5.45" fill="#222" stroke="#222" stroke-width="0.15">Low BHMT Group</text>
<line x1="278.75" y1="214.11" x2="288.5" y2="214.11" stroke="#ff3030" stroke-width="0.95"/>
<text transform="translate(290.3 216.11) scale(1 1.15)" font-size="5.45" fill="#222" stroke="#222" stroke-width="0.15">High BHMT Group</text>
<text transform="translate(335.6 222.71) scale(1 1.15)" font-size="5.45" text-anchor="end" fill="#222" stroke="#222" stroke-width="0.15">Logrank p=0.017</text>
<text transform="translate(335.6 229.31) scale(1 1.15)" font-size="5.45" text-anchor="end" fill="#222" stroke="#222" stroke-width="0.15">HR(high)=0.65</text>
<text transform="translate(335.6 235.91) scale(1 1.15)" font-size="5.45" text-anchor="end" fill="#222" stroke="#222" stroke-width="0.15">p(HR)=0.018</text>
<text transform="translate(335.6 242.51) scale(1 1.15)" font-size="5.45" text-anchor="end" fill="#222" stroke="#222" stroke-width="0.15">n(high)=182</text>
<text transform="translate(335.6 249.11) scale(1 1.15)" font-size="5.45" text-anchor="end" fill="#222" stroke="#222" stroke-width="0.15">n(low)=182</text>
<text x="210.75" y="325" font-size="9.4" font-weight="bold" fill="#111" stroke="#111" stroke-width="0.2">LIHC BHMT</text>
<text x="351.8" y="195.3" font-size="10.2" font-weight="bold" fill="#111" stroke="#111" stroke-width="0.2">(F)</text>
<text x="444.12" y="200.8" font-size="8.45" text-anchor="middle" fill="#111" stroke="#111" stroke-width="0.2">Overall Survival</text>
<rect x="378.75" y="203" width="130.75" height="124.5" fill="none" stroke="#7a7a7a" stroke-width="0.9"/>
<line x1="378.9" y1="327.5" x2="378.9" y2="330.9" stroke="#7a7a7a" stroke-width="0.9"/>
<text x="378.9" y="338.7" font-size="5.4" text-anchor="middle" fill="#333" stroke="#333" stroke-width="0.2">0</text>
<line x1="399.34" y1="327.5" x2="399.34" y2="330.9" stroke="#7a7a7a" stroke-width="0.9"/>
<text x="399.34" y="338.7" font-size="5.4" text-anchor="middle" fill="#333" stroke="#333" stroke-width="0.2">20</text>
<line x1="419.78" y1="327.5" x2="419.78" y2="330.9" stroke="#7a7a7a" stroke-width="0.9"/>
<text x="419.78" y="338.7" font-size="5.4" text-anchor="middle" fill="#333" stroke="#333" stroke-width="0.2">40</text>
<line x1="440.22" y1="327.5" x2="440.22" y2="330.9" stroke="#7a7a7a" stroke-width="0.9"/>
<text x="440.22" y="338.7" font-size="5.4" text-anchor="middle" fill="#333" stroke="#333" stroke-width="0.2">60</text>
<line x1="460.66" y1="327.5" x2="460.66" y2="330.9" stroke="#7a7a7a" stroke-width="0.9"/>
<text x="460.66" y="338.7" font-size="5.4" text-anchor="middle" fill="#333" stroke="#333" stroke-width="0.2">80</text>
<line x1="481.1" y1="327.5" x2="481.1" y2="330.9" stroke="#7a7a7a" stroke-width="0.9"/>
<text x="481.1" y="338.7" font-size="5.4" text-anchor="middle" fill="#333" stroke="#333" stroke-width="0.2">100</text>
<line x1="501.54" y1="327.5" x2="501.54" y2="330.9" stroke="#7a7a7a" stroke-width="0.9"/>
<text x="501.54" y="338.7" font-size="5.4" text-anchor="middle" fill="#333" stroke="#333" stroke-width="0.2">120</text>
<line x1="375.35" y1="322.6" x2="378.75" y2="322.6" stroke="#7a7a7a" stroke-width="0.9"/>
<text transform="translate(371 322.6) rotate(-90)" font-size="5.4" text-anchor="middle" fill="#333" stroke="#333" stroke-width="0.2">0.0</text>
<line x1="375.35" y1="299.6" x2="378.75" y2="299.6" stroke="#7a7a7a" stroke-width="0.9"/>
<text transform="translate(371 299.6) rotate(-90)" font-size="5.4" text-anchor="middle" fill="#333" stroke="#333" stroke-width="0.2">0.2</text>
<line x1="375.35" y1="276.6" x2="378.75" y2="276.6" stroke="#7a7a7a" stroke-width="0.9"/>
<text transform="translate(371 276.6) rotate(-90)" font-size="5.4" text-anchor="middle" fill="#333" stroke="#333" stroke-width="0.2">0.4</text>
<line x1="375.35" y1="253.6" x2="378.75" y2="253.6" stroke="#7a7a7a" stroke-width="0.9"/>
<text transform="translate(371 253.6) rotate(-90)" font-size="5.4" text-anchor="middle" fill="#333" stroke="#333" stroke-width="0.2">0.6</text>
<line x1="375.35" y1="230.6" x2="378.75" y2="230.6" stroke="#7a7a7a" stroke-width="0.9"/>
<text transform="translate(371 230.6) rotate(-90)" font-size="5.4" text-anchor="middle" fill="#333" stroke="#333" stroke-width="0.2">0.8</text>
<line x1="375.35" y1="207.6" x2="378.75" y2="207.6" stroke="#7a7a7a" stroke-width="0.9"/>
<text transform="translate(371 207.6) rotate(-90)" font-size="5.4" text-anchor="middle" fill="#333" stroke="#333" stroke-width="0.2">1.0</text>
<text x="444.12" y="348.6" font-size="7.2" text-anchor="middle" fill="#111" stroke="#111" stroke-width="0.2">Months</text>
<text transform="translate(361 265.25) rotate(-90)" font-size="7.2" text-anchor="middle" fill="#111" stroke="#111" stroke-width="0.2">Percent survival</text>
<path d="M379.4 207.6 L380.75 207.6 L380.75 208.29 L382.1 208.29 L382.1 210.35 L384.5 210.35 L384.5 210.85 L386.9 210.85 L386.9 211.35 L388.55 211.35 L388.55 213.07 L390.2 213.07 L390.2 214.86 L392.6 214.86 L392.6 216.73 L395 216.73 L395 218.65 L398.4 218.65 L398.4 219.68 L400.45 219.68 L400.45 221.62 L402.5 221.62 L402.5 223.57 L404.85 223.57 L404.85 225.79 L407.2 225.79 L407.2 228.04 L409.25 228.04 L409.25 229.46 L411.3 229.46 L411.3 230.88 L414 230.88 L414 231.71 L416.7 231.71 L416.7 232.53 L419.4 232.53 L419.4 234.48 L422.1 234.48 L422.1 236.44 L424.85 236.44 L424.85 236.72 L427.6 236.72 L427.6 236.99 L430.3 236.99 L430.3 238.03 L433 238.03 L433 239.04 L435.7 239.04 L435.7 240.29 L438.4 240.29 L438.4 241.52 L440.55 241.52 L440.55 242.13 L442.7 242.13 L442.7 242.71 L445.43 242.71 L445.43 242.8 L448.17 242.8 L448.17 242.88 L450.9 242.88 L450.9 242.95 L451.9 242.95 L451.9 244.67 L452.9 244.67 L452.9 246.53 L455.83 246.53 L455.83 246.61 L458.77 246.61 L458.77 246.67 L461.7 246.67 L461.7 246.71 L462.4 246.71 L462.4 247.53 L463.1 247.53 L463.1 248.46 L465.1 248.46 L465.1 248.69 L465.24 248.69 L465.24 249.64 L465.38 249.64 L465.38 250.75 L465.52 250.75 L465.52 252 L465.66 252 L465.66 253.37 L465.8 253.37 L465.8 254.85 L486.1 254.85 L486.18 254.85 L486.18 254.09 L486.25 254.09 L486.25 253.91 L486.32 253.91 L486.32 254.24 L486.4 254.24 L486.4 255.03 L505.1 255.03" fill="none" stroke="#ffb0b0" stroke-width="0.75" stroke-dasharray="1.6 0.7" opacity="0.85"/>
<path d="M379.4 209.4 L380.75 209.4 L380.75 214.33 L382.1 214.33 L382.1 218.49 L384.5 218.49 L384.5 219.38 L386.9 219.38 L386.9 220.27 L388.55 220.27 L388.55 223.19 L390.2 223.19 L390.2 226.03 L392.6 226.03 L392.6 228.89 L395 228.89 L395 231.72 L398.4 231.72 L398.4 233.24 L400.45 233.24 L400.45 236.03 L402.5 236.03 L402.5 238.79 L404.85 238.79 L404.85 241.88 L407.2 241.88 L407.2 244.93 L409.25 244.93 L409.25 246.84 L411.3 246.84 L411.3 248.75 L414 248.75 L414 249.88 L416.7 249.88 L416.7 251.01 L419.4 251.01 L419.4 253.73 L422.1 253.73 L422.1 256.44 L424.85 256.44 L424.85 256.84 L427.6 256.84 L427.6 257.24 L430.3 257.24 L430.3 258.81 L433 258.81 L433 260.39 L435.7 260.39 L435.7 262.38 L438.4 262.38 L438.4 264.39 L440.55 264.39 L440.55 265.39 L442.7 265.39 L442.7 266.41 L445.43 266.41 L445.43 266.57 L448.17 266.57 L448.17 266.74 L450.9 266.74 L450.9 266.91 L451.9 266.91 L451.9 271.02 L452.9 271.02 L452.9 274.96 L455.83 274.96 L455.83 275.12 L458.77 275.12 L458.77 275.29 L461.7 275.29 L461.7 275.48 L462.4 275.48 L462.4 278.87 L463.1 278.87 L463.1 282.09 L465.1 282.09 L465.1 283 L465.24 283 L465.24 286.33 L465.38 286.33 L465.38 289.48 L465.52 289.48 L465.52 292.47 L465.66 292.47 L465.66 295.32 L465.8 295.32 L465.8 298.03 L486.1 298.03 L486.18 298.03 L486.18 301.19 L486.25 301.19 L486.25 303.94 L486.32 303.94 L486.32 306.38 L486.4 306.38 L486.4 308.56 L505.1 308.56" fill="none" stroke="#ffb0b0" stroke-width="0.75" stroke-dasharray="1.6 0.7" opacity="0.85"/>
<path d="M379.4 207.6 L380.77 207.6 L380.77 207.82 L382.13 207.82 L382.13 209.23 L383.5 209.23 L383.5 210.84 L385.07 210.84 L385.07 212.51 L386.63 212.51 L386.63 214.24 L388.2 214.24 L388.2 216.03 L389.33 216.03 L389.33 217.85 L390.47 217.85 L390.47 219.72 L391.6 219.72 L391.6 221.61 L392.5 221.61 L392.5 223.9 L393.4 223.9 L393.4 226.22 L394.3 226.22 L394.3 228.57 L396.7 228.57 L396.7 230.94 L399.1 230.94 L399.1 233.31 L401.1 233.31 L401.1 235.75 L403.1 235.75 L403.1 238.19 L404.7 238.19 L404.7 240.22 L406.3 240.22 L406.3 242.25 L407.9 242.25 L407.9 244.3 L410.25 244.3 L410.25 245.19 L412.6 245.19 L412.6 246.09 L414.65 246.09 L414.65 246.4 L416.7 246.4 L416.7 246.7 L419.4 246.7 L419.4 248.72 L422.1 248.72 L422.1 250.74 L424.5 250.74 L424.5 252.49 L426.9 252.49 L426.9 254.23 L428.9 254.23 L428.9 257.11 L431.6 257.11 L431.6 258.25 L434.3 258.25 L434.3 259.37 L436.2 259.37 L436.2 261.39 L438.1 261.39 L438.1 263.41 L440 263.41 L440 265.43 L440.7 265.43 L440.7 267.67 L462.4 267.67 L462.72 267.67 L462.72 268.11 L463.05 268.11 L463.05 268.76 L463.38 268.76 L463.38 269.57 L463.7 269.57 L463.7 270.51 L490.2 270.51 L490.25 270.51 L490.25 269.98 L490.3 269.98 L490.3 270.19 L490.35 270.19 L490.35 271.04 L490.4 271.04 L490.4 272.51 L490.45 272.51 L490.45 274.58 L490.5 274.58 L490.5 277.31 L492.9 277.31" fill="none" stroke="#b0b0ff" stroke-width="0.75" stroke-dasharray="1.6 0.7" opacity="0.85"/>
<path d="M379.4 209.4 L380.77 209.4 L380.77 213.18 L382.13 213.18 L382.13 216.38 L383.5 216.38 L383.5 219.39 L385.07 219.39 L385.07 222.2 L386.63 222.2 L386.63 224.95 L388.2 224.95 L388.2 227.64 L389.33 227.64 L389.33 230.29 L390.47 230.29 L390.47 232.9 L391.6 232.9 L391.6 235.48 L392.5 235.48 L392.5 238.52 L393.4 238.52 L393.4 241.52 L394.3 241.52 L394.3 244.49 L396.7 244.49 L396.7 247.44 L399.1 247.44 L399.1 250.38 L401.1 250.38 L401.1 253.36 L403.1 253.36 L403.1 256.32 L404.7 256.32 L404.7 258.74 L406.3 258.74 L406.3 261.15 L407.9 261.15 L407.9 263.55 L410.25 263.55 L410.25 264.61 L412.6 264.61 L412.6 265.67 L414.65 265.67 L414.65 266.04 L416.7 266.04 L416.7 266.42 L419.4 266.42 L419.4 268.96 L422.1 268.96 L422.1 271.5 L424.5 271.5 L424.5 273.71 L426.9 273.71 L426.9 275.91 L428.9 275.91 L428.9 279.55 L431.6 279.55 L431.6 280.98 L434.3 280.98 L434.3 282.43 L436.2 282.43 L436.2 285.06 L438.1 285.06 L438.1 287.67 L440 287.67 L440 290.26 L440.7 290.26 L440.7 293.03 L462.4 293.03 L462.72 293.03 L462.72 296.2 L463.05 296.2 L463.05 299.13 L463.38 299.13 L463.38 301.85 L463.7 301.85 L463.7 304.39 L490.2 304.39 L490.25 304.39 L490.25 307.45 L490.3 307.45 L490.3 310.03 L490.35 310.03 L490.35 312.25 L490.4 312.25 L490.4 314.18 L490.45 314.18 L490.45 315.88 L490.5 315.88 L490.5 317.36 L492.9 317.36" fill="none" stroke="#b0b0ff" stroke-width="0.75" stroke-dasharray="1.6 0.7" opacity="0.85"/>
<path d="M379.4 208.2 L380.75 208.2 L380.75 211.35 L382.1 211.35 L382.1 214.5 L384.5 214.5 L384.5 215.2 L386.9 215.2 L386.9 215.9 L388.55 215.9 L388.55 218.25 L390.2 218.25 L390.2 220.6 L392.6 220.6 L392.6 223 L395 223 L395 225.4 L398.4 225.4 L398.4 226.7 L400.45 226.7 L400.45 229.1 L402.5 229.1 L402.5 231.5 L404.85 231.5 L404.85 234.2 L407.2 234.2 L407.2 236.9 L409.25 236.9 L409.25 238.6 L411.3 238.6 L411.3 240.3 L414 240.3 L414 241.3 L416.7 241.3 L416.7 242.3 L419.4 242.3 L419.4 244.7 L422.1 244.7 L422.1 247.1 L424.85 247.1 L424.85 247.45 L427.6 247.45 L427.6 247.8 L430.3 247.8 L430.3 249.15 L433 249.15 L433 250.5 L435.7 250.5 L435.7 252.2 L438.4 252.2 L438.4 253.9 L440.55 253.9 L440.55 254.75 L442.7 254.75 L442.7 255.6 L445.43 255.6 L445.43 255.73 L448.17 255.73 L448.17 255.87 L450.9 255.87 L450.9 256 L451.9 256 L451.9 259.2 L452.9 259.2 L452.9 262.4 L455.83 262.4 L455.83 262.53 L458.77 262.53 L458.77 262.67 L461.7 262.67 L461.7 262.8 L462.4 262.8 L462.4 265.3 L463.1 265.3 L463.1 267.8 L465.1 267.8 L465.1 268.5 L465.24 268.5 L465.24 271.16 L465.38 271.16 L465.38 273.82 L465.52 273.82 L465.52 276.48 L465.66 276.48 L465.66 279.14 L465.8 279.14 L465.8 281.8 L486.1 281.8 L486.18 281.8 L486.18 284.3 L486.25 284.3 L486.25 286.8 L486.32 286.8 L486.32 289.3 L486.4 289.3 L486.4 291.8 L505.1 291.8" fill="none" stroke="#ff1a1a" stroke-width="1.65" stroke-linejoin="miter"/>
<path d="M379.4 208.2 L380.77 208.2 L380.77 210.53 L382.13 210.53 L382.13 212.87 L383.5 212.87 L383.5 215.2 L385.07 215.2 L385.07 217.47 L386.63 217.47 L386.63 219.73 L388.2 219.73 L388.2 222 L389.33 222 L389.33 224.27 L390.47 224.27 L390.47 226.53 L391.6 226.53 L391.6 228.8 L392.5 228.8 L392.5 231.5 L393.4 231.5 L393.4 234.2 L394.3 234.2 L394.3 236.9 L396.7 236.9 L396.7 239.6 L399.1 239.6 L399.1 242.3 L401.1 242.3 L401.1 245.05 L403.1 245.05 L403.1 247.8 L404.7 247.8 L404.7 250.07 L406.3 250.07 L406.3 252.33 L407.9 252.33 L407.9 254.6 L410.25 254.6 L410.25 255.6 L412.6 255.6 L412.6 256.6 L414.65 256.6 L414.65 256.95 L416.7 256.95 L416.7 257.3 L419.4 257.3 L419.4 259.65 L422.1 259.65 L422.1 262 L424.5 262 L424.5 264.05 L426.9 264.05 L426.9 266.1 L428.9 266.1 L428.9 269.5 L431.6 269.5 L431.6 270.85 L434.3 270.85 L434.3 272.2 L436.2 272.2 L436.2 274.67 L438.1 274.67 L438.1 277.13 L440 277.13 L440 279.6 L440.7 279.6 L440.7 282.3 L462.4 282.3 L462.72 282.3 L462.72 284.68 L463.05 284.68 L463.05 287.05 L463.38 287.05 L463.38 289.43 L463.7 289.43 L463.7 291.8 L490.2 291.8 L490.25 291.8 L490.25 294.37 L490.3 294.37 L490.3 296.93 L490.35 296.93 L490.35 299.5 L490.4 299.5 L490.4 302.07 L490.45 302.07 L490.45 304.63 L490.5 304.63 L490.5 307.2 L492.9 307.2" fill="none" stroke="#1a1aff" stroke-width="1.65" stroke-linejoin="miter"/>
<path d="M470.88 280 V283.6 M481.03 280 V283.6 M491.07 290 V293.6 M500.43 290 V293.6 M505.1 290 V293.6" stroke="#ff1a1a" stroke-width="1.0" fill="none"/>
<path d="M446.12 280.5 V284.1 M456.97 280.5 V284.1 M470.32 290 V293.6 M483.57 290 V293.6 M492.9 305.4 V309" stroke="#1a1aff" stroke-width="1.0" fill="none"/>
<line x1="447" y1="209.5" x2="457" y2="209.5" stroke="#3030ff" stroke-width="0.95"/>
<text transform="translate(458.8 211.5) scale(1 1.15)" font-size="5.45" fill="#222" stroke="#222" stroke-width="0.15">Low SARDH Group</text>
<line x1="447" y1="215.18" x2="457" y2="215.18" stroke="#ff3030" stroke-width="0.95"/>
<text transform="translate(458.8 217.18) scale(1 1.15)" font-size="5.45" fill="#222" stroke="#222" stroke-width="0.15">High SARDH Group</text>
<text transform="translate(506.5 223.63) scale(1 1.15)" font-size="5.45" text-anchor="end" fill="#222" stroke="#222" stroke-width="0.15">Logrank p=0.0056</text>
<text transform="translate(506.5 230.08) scale(1 1.15)" font-size="5.45" text-anchor="end" fill="#222" stroke="#222" stroke-width="0.15">HR(high)=0.61</text>
<text transform="translate(506.5 236.53) scale(1 1.15)" font-size="5.45" text-anchor="end" fill="#222" stroke="#222" stroke-width="0.15">p(HR)=0.0062</text>
<text transform="translate(506.5 242.98) scale(1 1.15)" font-size="5.45" text-anchor="end" fill="#222" stroke="#222" stroke-width="0.15">n(high)=182</text>
<text transform="translate(506.5 249.43) scale(1 1.15)" font-size="5.45" text-anchor="end" fill="#222" stroke="#222" stroke-width="0.15">n(low)=182</text>
<text x="383" y="321.8" font-size="9.4" font-weight="bold" fill="#111" stroke="#111" stroke-width="0.2">LIHC SARDH</text>
<text x="9.2" y="383.6" font-size="10.2" font-weight="bold" fill="#111" stroke="#111" stroke-width="0.2">(G)</text>
<text x="98.03" y="393.6" font-size="8.45" text-anchor="middle" fill="#111" stroke="#111" stroke-width="0.2">Overall Survival</text>
<rect x="31.25" y="396.5" width="133.55" height="126.5" fill="none" stroke="#7a7a7a" stroke-width="0.9"/>
<line x1="32" y1="523" x2="32" y2="526.4" stroke="#7a7a7a" stroke-width="0.9"/>
<text x="32" y="534" font-size="5.4" text-anchor="middle" fill="#333" stroke="#333" stroke-width="0.2">0</text>
<line x1="52.72" y1="523" x2="52.72" y2="526.4" stroke="#7a7a7a" stroke-width="0.9"/>
<text x="52.72" y="534" font-size="5.4" text-anchor="middle" fill="#333" stroke="#333" stroke-width="0.2">20</text>
<line x1="73.44" y1="523" x2="73.44" y2="526.4" stroke="#7a7a7a" stroke-width="0.9"/>
<text x="73.44" y="534" font-size="5.4" text-anchor="middle" fill="#333" stroke="#333" stroke-width="0.2">40</text>
<line x1="94.16" y1="523" x2="94.16" y2="526.4" stroke="#7a7a7a" stroke-width="0.9"/>
<text x="94.16" y="534" font-size="5.4" text-anchor="middle" fill="#333" stroke="#333" stroke-width="0.2">60</text>
<line x1="114.88" y1="523" x2="114.88" y2="526.4" stroke="#7a7a7a" stroke-width="0.9"/>
<text x="114.88" y="534" font-size="5.4" text-anchor="middle" fill="#333" stroke="#333" stroke-width="0.2">80</text>
<line x1="135.6" y1="523" x2="135.6" y2="526.4" stroke="#7a7a7a" stroke-width="0.9"/>
<text x="135.6" y="534" font-size="5.4" text-anchor="middle" fill="#333" stroke="#333" stroke-width="0.2">100</text>
<line x1="156.32" y1="523" x2="156.32" y2="526.4" stroke="#7a7a7a" stroke-width="0.9"/>
<text x="156.32" y="534" font-size="5.4" text-anchor="middle" fill="#333" stroke="#333" stroke-width="0.2">120</text>
<line x1="27.85" y1="518.3" x2="31.25" y2="518.3" stroke="#7a7a7a" stroke-width="0.9"/>
<text transform="translate(23.5 518.3) rotate(-90)" font-size="5.4" text-anchor="middle" fill="#333" stroke="#333" stroke-width="0.2">0.0</text>
<line x1="27.85" y1="494.8" x2="31.25" y2="494.8" stroke="#7a7a7a" stroke-width="0.9"/>
<text transform="translate(23.5 494.8) rotate(-90)" font-size="5.4" text-anchor="middle" fill="#333" stroke="#333" stroke-width="0.2">0.2</text>
<line x1="27.85" y1="471.3" x2="31.25" y2="471.3" stroke="#7a7a7a" stroke-width="0.9"/>
<text transform="translate(23.5 471.3) rotate(-90)" font-size="5.4" text-anchor="middle" fill="#333" stroke="#333" stroke-width="0.2">0.4</text>
<line x1="27.85" y1="447.8" x2="31.25" y2="447.8" stroke="#7a7a7a" stroke-width="0.9"/>
<text transform="translate(23.5 447.8) rotate(-90)" font-size="5.4" text-anchor="middle" fill="#333" stroke="#333" stroke-width="0.2">0.6</text>
<line x1="27.85" y1="424.3" x2="31.25" y2="424.3" stroke="#7a7a7a" stroke-width="0.9"/>
<text transform="translate(23.5 424.3) rotate(-90)" font-size="5.4" text-anchor="middle" fill="#333" stroke="#333" stroke-width="0.2">0.8</text>
<line x1="27.85" y1="400.8" x2="31.25" y2="400.8" stroke="#7a7a7a" stroke-width="0.9"/>
<text transform="translate(23.5 400.8) rotate(-90)" font-size="5.4" text-anchor="middle" fill="#333" stroke="#333" stroke-width="0.2">1.0</text>
<text x="98.03" y="544.8" font-size="7.2" text-anchor="middle" fill="#111" stroke="#111" stroke-width="0.2">Months</text>
<text transform="translate(13.5 459.75) rotate(-90)" font-size="7.2" text-anchor="middle" fill="#111" stroke="#111" stroke-width="0.2">Percent survival</text>
<path d="M32.4 400.8 L33.53 400.8 L33.53 401.14 L34.67 401.14 L34.67 402.9 L35.8 402.9 L35.8 404.89 L37.17 404.89 L37.17 406.76 L38.53 406.76 L38.53 408.69 L39.9 408.69 L39.9 410.68 L41.23 410.68 L41.23 412.73 L42.57 412.73 L42.57 414.82 L43.9 414.82 L43.9 416.94 L45.95 416.94 L45.95 419.25 L48 419.25 L48 421.58 L50.7 421.58 L50.7 422.49 L53.4 422.49 L53.4 423.39 L54.77 423.39 L54.77 425.51 L56.13 425.51 L56.13 427.65 L57.5 427.65 L57.5 429.81 L59.55 429.81 L59.55 432.19 L61.6 432.19 L61.6 434.57 L64.3 434.57 L64.3 435.8 L67 435.8 L67 437.03 L69.27 437.03 L69.27 437.61 L71.53 437.61 L71.53 438.18 L73.8 438.18 L73.8 438.74 L76.85 438.74 L76.85 439.03 L79.9 439.03 L79.9 439.31 L80.55 439.31 L80.55 440.93 L81.2 440.93 L81.2 442.56 L83.6 442.56 L83.6 443.94 L86 443.94 L86 445.31 L88.7 445.31 L88.7 446.37 L91.4 446.37 L91.4 447.41 L93.2 447.41 L93.2 448.94 L95 448.94 L95 450.45 L119.4 450.45 L119.63 450.45 L119.63 450.47 L119.87 450.47 L119.87 450.85 L120.1 450.85 L120.1 451.48 L141.1 451.48 L141.18 451.48 L141.18 449.23 L141.25 449.23 L141.25 448.05 L141.32 448.05 L141.32 447.66 L141.4 447.66 L141.4 447.93 L160.1 447.93" fill="none" stroke="#ffb0b0" stroke-width="0.75" stroke-dasharray="1.6 0.7" opacity="0.85"/>
<path d="M32.4 402.19 L33.53 402.19 L33.53 406.79 L34.67 406.79 L34.67 410.57 L35.8 410.57 L35.8 414.11 L37.17 414.11 L37.17 417.12 L38.53 417.12 L38.53 420.06 L39.9 420.06 L39.9 422.95 L41.23 422.95 L41.23 425.83 L42.57 425.83 L42.57 428.68 L43.9 428.68 L43.9 431.5 L45.95 431.5 L45.95 434.51 L48 434.51 L48 437.51 L50.7 437.51 L50.7 438.67 L53.4 438.67 L53.4 439.83 L54.77 439.83 L54.77 442.56 L56.13 442.56 L56.13 445.26 L57.5 445.26 L57.5 447.95 L59.55 447.95 L59.55 450.87 L61.6 450.87 L61.6 453.78 L64.3 453.78 L64.3 455.29 L67 455.29 L67 456.8 L69.27 456.8 L69.27 457.52 L71.53 457.52 L71.53 458.25 L73.8 458.25 L73.8 458.98 L76.85 458.98 L76.85 459.36 L79.9 459.36 L79.9 459.76 L80.55 459.76 L80.55 462 L81.2 462 L81.2 464.22 L83.6 464.22 L83.6 466.1 L86 466.1 L86 467.99 L88.7 467.99 L88.7 469.49 L91.4 469.49 L91.4 471.01 L93.2 471.01 L93.2 473.25 L95 473.25 L95 475.48 L119.4 475.48 L119.63 475.48 L119.63 479.55 L119.87 479.55 L119.87 483.24 L120.1 483.24 L120.1 486.63 L141.1 486.63 L141.18 486.63 L141.18 491.34 L141.25 491.34 L141.25 495.18 L141.32 495.18 L141.32 498.45 L141.4 498.45 L141.4 501.29 L160.1 501.29" fill="none" stroke="#ffb0b0" stroke-width="0.75" stroke-dasharray="1.6 0.7" opacity="0.85"/>
<path d="M32.4 400.8 L34.75 400.8 L34.75 401.15 L37.1 401.15 L37.1 402.91 L39.9 402.91 L39.9 403.8 L41.9 403.8 L41.9 405.99 L43.9 405.99 L43.9 408.32 L45.95 408.32 L45.95 410.72 L48 410.72 L48 413.19 L51.4 413.19 L51.4 414.91 L52.4 414.91 L52.4 416.85 L53.4 416.85 L53.4 418.83 L56.1 418.83 L56.1 421.7 L58.8 421.7 L58.8 422.89 L60.5 422.89 L60.5 424.6 L62.2 424.6 L62.2 426.3 L64.25 426.3 L64.25 426.9 L66.3 426.9 L66.3 427.49 L69.7 427.49 L69.7 428.57 L71.75 428.57 L71.75 430.86 L73.8 430.86 L73.8 433.15 L75.8 433.15 L75.8 434.83 L77.8 434.83 L77.8 436.51 L81.2 436.51 L81.2 437.66 L83.6 437.66 L83.6 438.23 L86 438.23 L86 438.78 L88.7 438.78 L88.7 439.25 L89.4 439.25 L89.4 440.83 L90.1 440.83 L90.1 442.44 L92.8 442.44 L92.8 445.07 L95 445.07 L95 446.54 L97.72 446.54 L97.72 446.62 L100.45 446.62 L100.45 446.69 L103.18 446.69 L103.18 446.75 L105.9 446.75 L105.9 446.81 L106.1 446.81 L106.1 448.22 L106.3 448.22 L106.3 449.71 L106.5 449.71 L106.5 451.29 L109.05 451.29 L109.05 451.34 L111.6 451.34 L111.6 451.38 L114.15 451.38 L114.15 451.42 L116.7 451.42 L116.7 451.44 L117.05 451.44 L117.05 452.31 L117.4 452.31 L117.4 453.32 L117.83 453.32 L117.83 454.33 L118.27 454.33 L118.27 455.4 L118.7 455.4 L118.7 456.53 L120.1 456.53 L120.1 457.17 L120.33 457.17 L120.33 458.53 L120.57 458.53 L120.57 460 L120.8 460 L120.8 461.55 L145.2 461.55 L145.26 461.55 L145.26 462.58 L145.32 462.58 L145.32 464.27 L145.38 464.27 L145.38 466.62 L145.44 466.62 L145.44 469.69 L145.5 469.69 L145.5 473.54 L147.9 473.54" fill="none" stroke="#b0b0ff" stroke-width="0.75" stroke-dasharray="1.6 0.7" opacity="0.85"/>
<path d="M32.4 402.19 L34.75 402.19 L34.75 406.88 L37.1 406.88 L37.1 410.75 L39.9 410.75 L39.9 412.43 L41.9 412.43 L41.9 416.26 L43.9 416.26 L43.9 419.96 L45.95 419.96 L45.95 423.57 L48 423.57 L48 427.11 L51.4 427.11 L51.4 429.54 L52.4 429.54 L52.4 432.21 L53.4 432.21 L53.4 434.87 L56.1 434.87 L56.1 438.68 L58.8 438.68 L58.8 440.24 L60.5 440.24 L60.5 442.46 L62.2 442.46 L62.2 444.67 L64.25 444.67 L64.25 445.45 L66.3 445.45 L66.3 446.23 L69.7 446.23 L69.7 447.68 L71.75 447.68 L71.75 450.76 L73.8 450.76 L73.8 453.81 L75.8 453.81 L75.8 456.02 L77.8 456.02 L77.8 458.22 L81.2 458.22 L81.2 459.77 L83.6 459.77 L83.6 460.55 L86 460.55 L86 461.34 L88.7 461.34 L88.7 462.02 L89.4 462.02 L89.4 464.35 L90.1 464.35 L90.1 466.64 L92.8 466.64 L92.8 470.44 L95 470.44 L95 472.54 L97.72 472.54 L97.72 472.66 L100.45 472.66 L100.45 472.77 L103.18 472.77 L103.18 472.89 L105.9 472.89 L105.9 473.01 L106.1 473.01 L106.1 475.87 L106.3 475.87 L106.3 478.62 L106.5 478.62 L106.5 481.29 L109.05 481.29 L109.05 481.37 L111.6 481.37 L111.6 481.46 L114.15 481.46 L114.15 481.55 L116.7 481.55 L116.7 481.65 L117.05 481.65 L117.05 484.9 L117.4 484.9 L117.4 487.96 L117.83 487.96 L117.83 490.55 L118.27 490.55 L118.27 493.03 L118.7 493.03 L118.7 495.41 L120.1 495.41 L120.1 496.86 L120.33 496.86 L120.33 499.78 L120.57 499.78 L120.57 502.52 L120.8 502.52 L120.8 505.07 L145.2 505.07 L145.26 505.07 L145.26 507.42 L145.32 507.42 L145.32 509.47 L145.38 509.47 L145.38 511.27 L145.44 511.27 L145.44 512.85 L145.5 512.85 L145.5 514.23 L147.9 514.23" fill="none" stroke="#b0b0ff" stroke-width="0.75" stroke-dasharray="1.6 0.7" opacity="0.85"/>
<path d="M32.4 401.2 L33.53 401.2 L33.53 404 L34.67 404 L34.67 406.8 L35.8 406.8 L35.8 409.6 L37.17 409.6 L37.17 412.07 L38.53 412.07 L38.53 414.53 L39.9 414.53 L39.9 417 L41.23 417 L41.23 419.5 L42.57 419.5 L42.57 422 L43.9 422 L43.9 424.5 L45.95 424.5 L45.95 427.2 L48 427.2 L48 429.9 L50.7 429.9 L50.7 430.95 L53.4 430.95 L53.4 432 L54.77 432 L54.77 434.47 L56.13 434.47 L56.13 436.93 L57.5 436.93 L57.5 439.4 L59.55 439.4 L59.55 442.1 L61.6 442.1 L61.6 444.8 L64.3 444.8 L64.3 446.2 L67 446.2 L67 447.6 L69.27 447.6 L69.27 448.27 L71.53 448.27 L71.53 448.93 L73.8 448.93 L73.8 449.6 L76.85 449.6 L76.85 449.95 L79.9 449.95 L79.9 450.3 L80.55 450.3 L80.55 452.3 L81.2 452.3 L81.2 454.3 L83.6 454.3 L83.6 456 L86 456 L86 457.7 L88.7 457.7 L88.7 459.05 L91.4 459.05 L91.4 460.4 L93.2 460.4 L93.2 462.4 L95 462.4 L95 464.4 L119.4 464.4 L119.63 464.4 L119.63 467.03 L119.87 467.03 L119.87 469.67 L120.1 469.67 L120.1 472.3 L141.1 472.3 L141.18 472.3 L141.18 475.15 L141.25 475.15 L141.25 478 L141.32 478 L141.32 480.85 L141.4 480.85 L141.4 483.7 L160.1 483.7" fill="none" stroke="#ff1a1a" stroke-width="1.65" stroke-linejoin="miter"/>
<path d="M32.4 401.2 L34.75 401.2 L34.75 404.05 L37.1 404.05 L37.1 406.9 L39.9 406.9 L39.9 408.2 L41.9 408.2 L41.9 411.25 L43.9 411.25 L43.9 414.3 L45.95 414.3 L45.95 417.35 L48 417.35 L48 420.4 L51.4 420.4 L51.4 422.5 L52.4 422.5 L52.4 424.85 L53.4 424.85 L53.4 427.2 L56.1 427.2 L56.1 430.6 L58.8 430.6 L58.8 432 L60.5 432 L60.5 434 L62.2 434 L62.2 436 L64.25 436 L64.25 436.7 L66.3 436.7 L66.3 437.4 L69.7 437.4 L69.7 438.7 L71.75 438.7 L71.75 441.45 L73.8 441.45 L73.8 444.2 L75.8 444.2 L75.8 446.2 L77.8 446.2 L77.8 448.2 L81.2 448.2 L81.2 449.6 L83.6 449.6 L83.6 450.3 L86 450.3 L86 451 L88.7 451 L88.7 451.6 L89.4 451.6 L89.4 453.65 L90.1 453.65 L90.1 455.7 L92.8 455.7 L92.8 459.1 L95 459.1 L95 461 L97.72 461 L97.72 461.1 L100.45 461.1 L100.45 461.2 L103.18 461.2 L103.18 461.3 L105.9 461.3 L105.9 461.4 L106.1 461.4 L106.1 463.77 L106.3 463.77 L106.3 466.13 L106.5 466.13 L106.5 468.5 L109.05 468.5 L109.05 468.57 L111.6 468.57 L111.6 468.65 L114.15 468.65 L114.15 468.73 L116.7 468.73 L116.7 468.8 L117.05 468.8 L117.05 471.35 L117.4 471.35 L117.4 473.9 L117.83 473.9 L117.83 476.17 L118.27 476.17 L118.27 478.43 L118.7 478.43 L118.7 480.7 L120.1 480.7 L120.1 482.1 L120.33 482.1 L120.33 485.03 L120.57 485.03 L120.57 487.97 L120.8 487.97 L120.8 490.9 L145.2 490.9 L145.26 490.9 L145.26 493.68 L145.32 493.68 L145.32 496.46 L145.38 496.46 L145.38 499.24 L145.44 499.24 L145.44 502.02 L145.5 502.02 L145.5 504.8 L147.9 504.8" fill="none" stroke="#1a1aff" stroke-width="1.65" stroke-linejoin="miter"/>
<path d="M101.1 462.6 V466.2 M113.3 462.6 V466.2 M125.35 470.5 V474.1 M135.85 470.5 V474.1 M146.07 481.9 V485.5 M155.43 481.9 V485.5 M160.1 481.9 V485.5" stroke="#ff1a1a" stroke-width="1.0" fill="none"/>
<path d="M126.9 489.1 V492.7 M139.1 489.1 V492.7 M147.9 503 V506.6" stroke="#1a1aff" stroke-width="1.0" fill="none"/>
<line x1="104.5" y1="403" x2="115" y2="403" stroke="#3030ff" stroke-width="0.95"/>
<text transform="translate(116.8 405) scale(1 1.15)" font-size="5.45" fill="#222" stroke="#222" stroke-width="0.15">Low AHCY Group</text>
<line x1="104.5" y1="408.68" x2="115" y2="408.68" stroke="#ff3030" stroke-width="0.95"/>
<text transform="translate(116.8 410.68) scale(1 1.15)" font-size="5.45" fill="#222" stroke="#222" stroke-width="0.15">High AHCY Group</text>
<text transform="translate(162.5 417.13) scale(1 1.15)" font-size="5.45" text-anchor="end" fill="#222" stroke="#222" stroke-width="0.15">Logrank p=0.48</text>
<text transform="translate(162.5 423.58) scale(1 1.15)" font-size="5.45" text-anchor="end" fill="#222" stroke="#222" stroke-width="0.15">HR(high)=1.1</text>
<text transform="translate(162.5 430.03) scale(1 1.15)" font-size="5.45" text-anchor="end" fill="#222" stroke="#222" stroke-width="0.15">p(HR)=0.48</text>
<text transform="translate(162.5 436.48) scale(1 1.15)" font-size="5.45" text-anchor="end" fill="#222" stroke="#222" stroke-width="0.15">n(high)=182</text>
<text transform="translate(162.5 442.93) scale(1 1.15)" font-size="5.45" text-anchor="end" fill="#222" stroke="#222" stroke-width="0.15">n(low)=182</text>
<text x="36.3" y="518.3" font-size="9.4" font-weight="bold" fill="#111" stroke="#111" stroke-width="0.2">LIHC AHCY</text>
<text x="177.3" y="383.6" font-size="10.2" font-weight="bold" fill="#111" stroke="#111" stroke-width="0.2">(H)</text>
<rect x="202.5" y="393.8" width="301.2" height="25.2" fill="#1c6fd0"/>
<line x1="308" y1="393.8" x2="308" y2="419" stroke="#6fa6e0" stroke-width="0.9"/>
<line x1="416.8" y1="393.8" x2="416.8" y2="419" stroke="#6fa6e0" stroke-width="0.9"/>
<text x="255.3" y="404.6" font-size="9.45" font-weight="bold" fill="#fff" text-anchor="middle" stroke="#fff" stroke-width="0.2">High expression of</text>
<text x="255.3" y="415.8" font-size="9.45" font-weight="bold" fill="#fff" text-anchor="middle" stroke="#fff" stroke-width="0.2">gene</text>
<text x="362.6" y="404.6" font-size="9.45" font-weight="bold" fill="#fff" text-anchor="middle" stroke="#fff" stroke-width="0.2">HR of death in LIHC</text>
<text x="460.6" y="404.6" font-size="9.45" font-weight="bold" fill="#fff" text-anchor="middle" stroke="#fff" stroke-width="0.2">Log- rank P-value</text>
<rect x="202.5" y="421.1" width="301.2" height="15.7" fill="#dce8f5"/>
<text x="255.3" y="432.9" font-size="10.4" text-anchor="middle" fill="#1a1a1a" stroke="#1a1a1a" stroke-width="0.2">MAT1A</text>
<text x="362.6" y="432.9" font-size="10.4" text-anchor="middle" fill="#1a1a1a" stroke="#1a1a1a" stroke-width="0.2">0.61</text>
<text x="466.4" y="432.9" font-size="10.4" text-anchor="middle" fill="#1a1a1a" stroke="#1a1a1a" stroke-width="0.2">0.0065</text>
<rect x="202.5" y="437.55" width="301.2" height="15.05" fill="#90c0e9"/>
<text x="255.3" y="448.7" font-size="10.4" text-anchor="middle" fill="#1a1a1a" font-weight="bold" stroke="#1a1a1a" stroke-width="0.2">MAT2A</text>
<text x="362.6" y="448.7" font-size="10.4" text-anchor="middle" fill="#1a1a1a" font-weight="bold" stroke="#1a1a1a" stroke-width="0.2">1.60</text>
<text x="466.4" y="448.7" font-size="10.4" text-anchor="middle" fill="#1a1a1a" font-weight="bold" stroke="#1a1a1a" stroke-width="0.2">0.0077</text>
<rect x="202.5" y="453.35" width="301.2" height="15.55" fill="#dce8f5"/>
<text x="255.3" y="465" font-size="10.4" text-anchor="middle" fill="#1a1a1a" stroke="#1a1a1a" stroke-width="0.2">MAT2B</text>
<text x="362.6" y="465" font-size="10.4" text-anchor="middle" fill="#1a1a1a" stroke="#1a1a1a" stroke-width="0.2">1.20</text>
<text x="466.4" y="465" font-size="10.4" text-anchor="middle" fill="#1a1a1a" stroke="#1a1a1a" stroke-width="0.2">0.3100</text>
<rect x="202.5" y="469.65" width="301.2" height="15.65" fill="#dce8f5"/>
<text x="255.3" y="481.4" font-size="10.4" text-anchor="middle" fill="#1a1a1a" stroke="#1a1a1a" stroke-width="0.2">GNMT</text>
<text x="362.6" y="481.4" font-size="10.4" text-anchor="middle" fill="#1a1a1a" stroke="#1a1a1a" stroke-width="0.2">0.64</text>
<text x="466.4" y="481.4" font-size="10.4" text-anchor="middle" fill="#1a1a1a" stroke="#1a1a1a" stroke-width="0.2">0.0120</text>
<rect x="202.5" y="486.05" width="301.2" height="15.75" fill="#dce8f5"/>
<text x="255.3" y="497.9" font-size="10.4" text-anchor="middle" fill="#1a1a1a" stroke="#1a1a1a" stroke-width="0.2">BHMT</text>
<text x="362.6" y="497.9" font-size="10.4" text-anchor="middle" fill="#1a1a1a" stroke="#1a1a1a" stroke-width="0.2">0.65</text>
<text x="466.4" y="497.9" font-size="10.4" text-anchor="middle" fill="#1a1a1a" stroke="#1a1a1a" stroke-width="0.2">0.0170</text>
<rect x="202.5" y="502.55" width="301.2" height="15.65" fill="#dce8f5"/>
<text x="255.3" y="514.3" font-size="10.4" text-anchor="middle" fill="#1a1a1a" stroke="#1a1a1a" stroke-width="0.2">SARDH</text>
<text x="362.6" y="514.3" font-size="10.4" text-anchor="middle" fill="#1a1a1a" stroke="#1a1a1a" stroke-width="0.2">0.61</text>
<text x="466.4" y="514.3" font-size="10.4" text-anchor="middle" fill="#1a1a1a" stroke="#1a1a1a" stroke-width="0.2">0.0056</text>
<rect x="202.5" y="518.95" width="301.2" height="15.45" fill="#dce8f5"/>
<text x="255.3" y="530.5" font-size="10.4" text-anchor="middle" fill="#1a1a1a" stroke="#1a1a1a" stroke-width="0.2">AHCY</text>
<text x="362.6" y="530.5" font-size="10.4" text-anchor="middle" fill="#1a1a1a" stroke="#1a1a1a" stroke-width="0.2">1.10</text>
<text x="466.4" y="530.5" font-size="10.4" text-anchor="middle" fill="#1a1a1a" stroke="#1a1a1a" stroke-width="0.2">0.4800</text>
<line x1="308" y1="419" x2="308" y2="534.4" stroke="#f4f8fc" stroke-width="0.9"/>
<line x1="416.8" y1="419" x2="416.8" y2="534.4" stroke="#f4f8fc" stroke-width="0.9"/>
</svg></body></html>
